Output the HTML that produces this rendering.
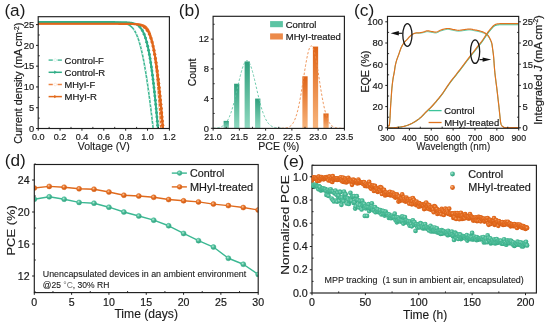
<!DOCTYPE html>
<html><head><meta charset="utf-8"><style>
html,body{margin:0;padding:0;background:#fff;}
svg{display:block;font-family:"Liberation Sans", sans-serif;will-change:transform;}
text{stroke:#1a1a1a;stroke-width:0.2px;}
</style></head><body>
<svg width="550" height="325" viewBox="0 0 550 325">
<rect width="550" height="325" fill="#fff"/>
<g>
<clipPath id="ca"><rect x="38.2" y="16.7" width="131.2" height="111.8"/></clipPath>
<g clip-path="url(#ca)">
<polyline points="36.01,22.11 70.99,22.11 71.53,22.11 72.07,22.11 72.60,22.11 73.14,22.11 73.68,22.11 74.22,22.11 74.75,22.11 75.29,22.11 75.83,22.11 76.37,22.11 76.90,22.11 77.44,22.11 77.98,22.11 78.52,22.11 79.05,22.11 79.59,22.11 80.13,22.11 80.67,22.11 81.20,22.11 81.74,22.11 82.28,22.11 82.82,22.11 83.35,22.11 83.89,22.11 84.43,22.11 84.97,22.11 85.50,22.11 86.04,22.11 86.58,22.11 87.12,22.11 87.65,22.11 88.19,22.11 88.73,22.11 89.27,22.11 89.80,22.11 90.34,22.11 90.88,22.11 91.42,22.11 91.95,22.11 92.49,22.11 93.03,22.11 93.57,22.11 94.10,22.11 94.64,22.11 95.18,22.11 95.72,22.11 96.25,22.11 96.79,22.11 97.33,22.11 97.87,22.11 98.40,22.11 98.94,22.11 99.48,22.11 100.02,22.11 100.55,22.11 101.09,22.11 101.63,22.11 102.17,22.12 102.70,22.12 103.24,22.12 103.78,22.12 104.32,22.12 104.85,22.12 105.39,22.13 105.93,22.13 106.47,22.13 107.00,22.13 107.54,22.14 108.08,22.14 108.62,22.14 109.16,22.15 109.69,22.15 110.23,22.16 110.77,22.17 111.31,22.17 111.85,22.18 112.38,22.19 112.92,22.20 113.46,22.21 114.00,22.23 114.54,22.24 115.08,22.26 115.61,22.28 116.15,22.30 116.69,22.32 117.23,22.34 117.77,22.37 118.31,22.41 118.85,22.44 119.39,22.48 119.93,22.53 120.47,22.58 121.01,22.64 121.56,22.70 122.10,22.78 122.64,22.86 123.19,22.95 123.73,23.05 124.16,23.15 124.28,23.17 124.82,23.30 125.37,23.45 125.92,23.61 126.47,23.79 127.02,24.00 127.47,24.18 127.58,24.23 128.13,24.49 128.69,24.78 129.25,25.10 129.44,25.22 129.81,25.47 130.38,25.88 130.86,26.26 130.95,26.34 131.52,26.86 131.97,27.30 132.10,27.44 132.68,28.09 132.89,28.34 133.27,28.82 133.69,29.38 133.87,29.64 134.38,30.42 134.47,30.56 135.01,31.46 135.08,31.59 135.57,32.50 135.70,32.75 136.09,33.54 136.33,34.04 136.57,34.57 136.97,35.50 137.01,35.61 137.43,36.65 137.62,37.13 137.83,37.69 138.20,38.73 138.29,38.97 138.56,39.77 138.90,40.81 138.97,41.03 139.22,41.85 139.54,42.89 139.67,43.33 139.84,43.93 140.13,44.96 140.39,45.92 140.41,46.00 140.68,47.04 140.94,48.08 141.13,48.83 141.20,49.12 141.45,50.16 141.69,51.20 141.90,52.09 141.93,52.24 142.16,53.28 142.39,54.32 142.61,55.35 142.69,55.75 142.82,56.39 143.04,57.43 143.24,58.47 143.45,59.51 143.52,59.86 143.65,60.55 143.85,61.59 144.04,62.63 144.23,63.67 144.38,64.46 144.42,64.71 144.61,65.74 144.79,66.78 144.97,67.82 145.15,68.86 145.28,69.63 145.32,69.90 145.50,70.94 145.67,71.98 145.84,73.02 146.00,74.06 146.17,75.10 146.22,75.43 146.33,76.13 146.50,77.17 146.66,78.21 146.81,79.25 146.97,80.29 147.13,81.33 147.22,81.94 147.28,82.37 147.43,83.41 147.59,84.45 147.74,85.49 147.88,86.52 148.03,87.56 148.18,88.60 148.27,89.24 148.32,89.64 148.47,90.68 148.61,91.72 148.75,92.76 148.89,93.80 149.03,94.84 149.17,95.88 149.31,96.91 149.38,97.43 149.45,97.95 149.59,98.99 149.72,100.03 149.86,101.07 149.99,102.11 150.12,103.15 150.26,104.19 150.39,105.23 150.52,106.27 150.56,106.62 150.65,107.30 150.78,108.34 150.91,109.38 151.04,110.42 151.16,111.46 151.29,112.50 151.42,113.54 151.54,114.58 151.67,115.62 151.79,116.66 151.82,116.93 151.92,117.69 152.04,118.73 152.16,119.77 152.28,120.81 152.41,121.85 152.53,122.89 152.65,123.93 152.77,124.97 152.89,126.01 153.01,127.05 153.13,128.08 153.17,128.50 153.25,129.12 153.36,130.16 153.48,131.20 153.60,132.24 153.72,133.28 153.83,134.32 153.95,135.36" fill="none" stroke="#3fb893" stroke-width="1.6" stroke-linejoin="round"/>
<circle cx="134.20" cy="30.14" r="0.8" fill="#fff" fill-opacity="0.9"/>
<circle cx="136.22" cy="33.81" r="0.8" fill="#fff" fill-opacity="0.9"/>
<circle cx="137.83" cy="37.69" r="0.8" fill="#fff" fill-opacity="0.9"/>
<circle cx="139.17" cy="41.67" r="0.8" fill="#fff" fill-opacity="0.9"/>
<circle cx="140.33" cy="45.71" r="0.8" fill="#fff" fill-opacity="0.9"/>
<circle cx="141.36" cy="49.78" r="0.8" fill="#fff" fill-opacity="0.9"/>
<circle cx="142.29" cy="53.87" r="0.8" fill="#fff" fill-opacity="0.9"/>
<circle cx="143.15" cy="57.99" r="0.8" fill="#fff" fill-opacity="0.9"/>
<circle cx="143.94" cy="62.11" r="0.8" fill="#fff" fill-opacity="0.9"/>
<circle cx="144.69" cy="66.24" r="0.8" fill="#fff" fill-opacity="0.9"/>
<circle cx="145.40" cy="70.38" r="0.8" fill="#fff" fill-opacity="0.9"/>
<circle cx="146.08" cy="74.53" r="0.8" fill="#fff" fill-opacity="0.9"/>
<circle cx="146.73" cy="78.68" r="0.8" fill="#fff" fill-opacity="0.9"/>
<circle cx="147.35" cy="82.83" r="0.8" fill="#fff" fill-opacity="0.9"/>
<circle cx="147.95" cy="86.99" r="0.8" fill="#fff" fill-opacity="0.9"/>
<circle cx="148.53" cy="91.15" r="0.8" fill="#fff" fill-opacity="0.9"/>
<circle cx="149.10" cy="95.31" r="0.8" fill="#fff" fill-opacity="0.9"/>
<circle cx="149.65" cy="99.47" r="0.8" fill="#fff" fill-opacity="0.9"/>
<circle cx="150.19" cy="103.64" r="0.8" fill="#fff" fill-opacity="0.9"/>
<circle cx="150.71" cy="107.80" r="0.8" fill="#fff" fill-opacity="0.9"/>
<circle cx="151.23" cy="111.97" r="0.8" fill="#fff" fill-opacity="0.9"/>
<circle cx="151.73" cy="116.14" r="0.8" fill="#fff" fill-opacity="0.9"/>
<circle cx="152.23" cy="120.31" r="0.8" fill="#fff" fill-opacity="0.9"/>
<circle cx="152.71" cy="124.49" r="0.8" fill="#fff" fill-opacity="0.9"/>
<circle cx="153.19" cy="128.66" r="0.8" fill="#fff" fill-opacity="0.9"/>
<circle cx="153.67" cy="132.83" r="0.8" fill="#fff" fill-opacity="0.9"/>
<polyline points="36.01,22.11 82.95,22.11 83.45,22.11 83.96,22.11 84.46,22.11 84.97,22.11 85.47,22.11 85.98,22.11 86.48,22.11 86.99,22.11 87.49,22.11 88.00,22.11 88.50,22.11 89.01,22.11 89.51,22.11 90.02,22.11 90.52,22.11 91.03,22.11 91.53,22.11 92.04,22.11 92.54,22.11 93.04,22.11 93.55,22.11 94.05,22.11 94.56,22.11 95.06,22.11 95.57,22.11 96.07,22.11 96.58,22.11 97.08,22.11 97.59,22.11 98.09,22.11 98.60,22.11 99.10,22.11 99.61,22.11 100.11,22.11 100.62,22.11 101.12,22.11 101.63,22.11 102.13,22.11 102.63,22.11 103.14,22.11 103.64,22.11 104.15,22.11 104.65,22.11 105.16,22.11 105.66,22.11 106.17,22.11 106.67,22.11 107.18,22.11 107.68,22.11 108.19,22.11 108.69,22.11 109.20,22.11 109.70,22.11 110.21,22.11 110.71,22.11 111.22,22.11 111.72,22.11 112.23,22.12 112.73,22.12 113.24,22.12 113.74,22.12 114.25,22.12 114.75,22.12 115.25,22.13 115.76,22.13 116.26,22.13 116.77,22.13 117.27,22.14 117.78,22.14 118.28,22.14 118.79,22.15 119.29,22.15 119.80,22.16 120.30,22.17 120.81,22.17 121.31,22.18 121.82,22.19 122.32,22.20 122.83,22.21 123.34,22.23 123.84,22.24 124.35,22.26 124.85,22.28 125.36,22.30 125.86,22.32 126.37,22.34 126.88,22.37 127.38,22.41 127.89,22.44 128.39,22.48 128.90,22.53 129.41,22.58 129.92,22.64 130.42,22.70 130.93,22.78 131.44,22.86 131.95,22.95 132.46,23.05 132.86,23.15 132.97,23.17 133.48,23.30 133.99,23.45 134.50,23.61 135.02,23.79 135.53,24.00 135.95,24.18 136.05,24.23 136.56,24.49 137.08,24.78 137.60,25.10 137.77,25.22 138.12,25.47 138.64,25.88 139.08,26.26 139.17,26.34 139.70,26.86 140.11,27.30 140.23,27.44 140.76,28.09 140.96,28.34 141.30,28.82 141.68,29.38 141.84,29.64 142.31,30.42 142.39,30.56 142.88,31.46 142.94,31.59 143.38,32.50 143.50,32.75 143.85,33.54 144.06,34.04 144.28,34.57 144.63,35.50 144.68,35.61 145.05,36.65 145.21,37.13 145.40,37.69 145.73,38.73 145.80,38.97 146.04,39.77 146.34,40.81 146.40,41.03 146.62,41.85 146.90,42.89 147.01,43.33 147.16,43.93 147.41,44.96 147.63,45.92 147.65,46.00 147.88,47.04 148.11,48.08 148.27,48.83 148.33,49.12 148.54,50.16 148.75,51.20 148.92,52.09 148.95,52.24 149.15,53.28 149.34,54.32 149.52,55.35 149.59,55.75 149.71,56.39 149.88,57.43 150.06,58.47 150.23,59.51 150.29,59.86 150.40,60.55 150.56,61.59 150.72,62.63 150.88,63.67 151.00,64.46 151.04,64.71 151.19,65.74 151.34,66.78 151.49,67.82 151.63,68.86 151.74,69.63 151.78,69.90 151.92,70.94 152.06,71.98 152.20,73.02 152.33,74.06 152.47,75.10 152.51,75.43 152.60,76.13 152.73,77.17 152.86,78.21 152.99,79.25 153.11,80.29 153.24,81.33 153.31,81.94 153.36,82.37 153.48,83.41 153.60,84.45 153.72,85.49 153.84,86.52 153.96,87.56 154.08,88.60 154.15,89.24 154.19,89.64 154.31,90.68 154.42,91.72 154.53,92.76 154.64,93.80 154.75,94.84 154.86,95.88 154.97,96.91 155.02,97.43 155.08,97.95 155.19,98.99 155.29,100.03 155.40,101.07 155.50,102.11 155.61,103.15 155.71,104.19 155.81,105.23 155.91,106.27 155.95,106.62 156.01,107.30 156.11,108.34 156.21,109.38 156.31,110.42 156.41,111.46 156.51,112.50 156.61,113.54 156.70,114.58 156.80,115.62 156.90,116.66 156.92,116.93 156.99,117.69 157.09,118.73 157.18,119.77 157.27,120.81 157.37,121.85 157.46,122.89 157.55,123.93 157.64,124.97 157.74,126.01 157.83,127.05 157.92,128.08 157.95,128.50 158.01,129.12 158.10,130.16 158.19,131.20 158.27,132.24 158.36,133.28 158.45,134.32 158.54,135.36" fill="none" stroke="#2fae87" stroke-width="2.0" stroke-linejoin="round"/>
<circle cx="139.83" cy="27.00" r="1.45" fill="#2fae87"/>
<circle cx="142.30" cy="30.39" r="1.45" fill="#2fae87"/>
<circle cx="144.12" cy="34.17" r="1.45" fill="#2fae87"/>
<circle cx="145.54" cy="38.12" r="1.45" fill="#2fae87"/>
<circle cx="146.71" cy="42.16" r="1.45" fill="#2fae87"/>
<circle cx="147.70" cy="46.24" r="1.45" fill="#2fae87"/>
<circle cx="148.58" cy="50.35" r="1.45" fill="#2fae87"/>
<circle cx="149.37" cy="54.47" r="1.45" fill="#2fae87"/>
<circle cx="150.08" cy="58.61" r="1.45" fill="#2fae87"/>
<circle cx="150.74" cy="62.76" r="1.45" fill="#2fae87"/>
<circle cx="151.36" cy="66.91" r="1.45" fill="#2fae87"/>
<circle cx="151.94" cy="71.07" r="1.45" fill="#2fae87"/>
<circle cx="152.48" cy="75.24" r="1.45" fill="#2fae87"/>
<circle cx="153.00" cy="79.40" r="1.45" fill="#2fae87"/>
<circle cx="153.50" cy="83.57" r="1.45" fill="#2fae87"/>
<circle cx="153.98" cy="87.75" r="1.45" fill="#2fae87"/>
<circle cx="154.44" cy="91.92" r="1.45" fill="#2fae87"/>
<circle cx="154.89" cy="96.10" r="1.45" fill="#2fae87"/>
<circle cx="155.32" cy="100.28" r="1.45" fill="#2fae87"/>
<circle cx="155.74" cy="104.45" r="1.45" fill="#2fae87"/>
<circle cx="156.14" cy="108.63" r="1.45" fill="#2fae87"/>
<circle cx="156.54" cy="112.82" r="1.45" fill="#2fae87"/>
<circle cx="156.93" cy="117.00" r="1.45" fill="#2fae87"/>
<circle cx="157.31" cy="121.18" r="1.45" fill="#2fae87"/>
<circle cx="157.68" cy="125.36" r="1.45" fill="#2fae87"/>
<circle cx="158.04" cy="129.55" r="1.45" fill="#2fae87"/>
<circle cx="158.40" cy="133.73" r="1.45" fill="#2fae87"/>
<polyline points="36.01,23.77 105.08,23.77 105.45,23.77 105.83,23.77 106.21,23.77 106.59,23.77 106.96,23.77 107.34,23.77 107.72,23.77 108.10,23.77 108.47,23.77 108.85,23.77 109.23,23.77 109.61,23.77 109.99,23.77 110.36,23.77 110.74,23.77 111.12,23.77 111.50,23.77 111.87,23.77 112.25,23.77 112.63,23.77 113.01,23.77 113.38,23.77 113.76,23.77 114.14,23.77 114.52,23.77 114.89,23.77 115.27,23.77 115.65,23.77 116.03,23.77 116.40,23.77 116.78,23.77 117.16,23.77 117.54,23.77 117.92,23.77 118.29,23.77 118.67,23.77 119.05,23.77 119.43,23.77 119.80,23.77 120.18,23.77 120.56,23.77 120.94,23.77 121.31,23.77 121.69,23.77 122.07,23.77 122.45,23.77 122.82,23.77 123.20,23.77 123.58,23.77 123.96,23.77 124.33,23.77 124.71,23.77 125.09,23.77 125.47,23.77 125.85,23.78 126.22,23.78 126.60,23.78 126.98,23.78 127.36,23.78 127.73,23.78 128.11,23.78 128.49,23.78 128.87,23.79 129.24,23.79 129.62,23.79 130.00,23.79 130.38,23.80 130.76,23.80 131.13,23.80 131.51,23.81 131.89,23.81 132.27,23.82 132.64,23.82 133.02,23.83 133.40,23.83 133.78,23.84 134.16,23.85 134.53,23.86 134.91,23.87 135.29,23.89 135.67,23.90 136.05,23.92 136.42,23.93 136.80,23.96 137.18,23.98 137.56,24.00 137.94,24.03 138.32,24.06 138.70,24.10 139.07,24.14 139.45,24.19 139.83,24.24 140.21,24.29 140.59,24.36 140.97,24.43 141.35,24.51 141.73,24.60 142.11,24.70 142.47,24.81 142.49,24.82 142.88,24.94 143.26,25.09 143.64,25.25 144.02,25.43 144.41,25.63 144.77,25.85 144.79,25.86 145.18,26.11 145.56,26.40 145.95,26.72 146.14,26.89 146.34,27.08 146.73,27.48 147.11,27.92 147.12,27.94 147.52,28.45 147.88,28.96 147.91,29.02 148.31,29.66 148.51,30.00 148.71,30.38 149.05,31.04 149.11,31.18 149.52,32.08 149.52,32.09 149.93,33.10 149.94,33.12 150.32,34.16 150.34,34.24 150.66,35.20 150.76,35.52 150.98,36.24 151.18,36.95 151.27,37.28 151.55,38.31 151.61,38.56 151.81,39.35 152.05,40.37 152.05,40.39 152.29,41.43 152.49,42.39 152.51,42.47 152.72,43.51 152.92,44.55 152.94,44.67 153.11,45.59 153.29,46.63 153.40,47.22 153.47,47.67 153.65,48.70 153.81,49.74 153.86,50.08 153.97,50.78 154.13,51.82 154.28,52.86 154.34,53.29 154.43,53.90 154.57,54.94 154.71,55.98 154.84,56.89 154.85,57.02 154.99,58.06 155.12,59.09 155.24,60.13 155.34,60.93 155.37,61.17 155.49,62.21 155.61,63.25 155.73,64.29 155.85,65.33 155.86,65.46 155.96,66.37 156.07,67.41 156.18,68.45 156.29,69.48 156.40,70.52 156.40,70.55 156.50,71.56 156.60,72.60 156.71,73.64 156.81,74.68 156.91,75.72 156.96,76.26 157.00,76.76 157.10,77.80 157.20,78.84 157.29,79.87 157.38,80.91 157.47,81.95 157.54,82.66 157.57,82.99 157.66,84.03 157.74,85.07 157.83,86.11 157.92,87.15 158.01,88.19 158.09,89.23 158.14,89.85 158.18,90.26 158.26,91.30 158.34,92.34 158.42,93.38 158.51,94.42 158.59,95.46 158.67,96.50 158.75,97.54 158.77,97.91 158.82,98.58 158.90,99.62 158.98,100.65 159.06,101.69 159.13,102.73 159.21,103.77 159.28,104.81 159.36,105.85 159.43,106.89 159.44,106.96 159.51,107.93 159.58,108.97 159.65,110.01 159.72,111.04 159.79,112.08 159.87,113.12 159.94,114.16 160.01,115.20 160.08,116.24 160.13,117.11 160.15,117.28 160.22,118.32 160.28,119.36 160.35,120.40 160.42,121.43 160.49,122.47 160.55,123.51 160.62,124.55 160.69,125.59 160.75,126.63 160.82,127.67 160.87,128.50 160.89,128.71 160.95,129.75 161.01,130.79 161.08,131.82 161.14,132.86 161.21,133.90 161.27,134.94" fill="none" stroke="#e9782f" stroke-width="1.6" stroke-linejoin="round"/>
<circle cx="151.08" cy="36.58" r="0.8" fill="#fff" fill-opacity="0.9"/>
<circle cx="152.11" cy="40.65" r="0.8" fill="#fff" fill-opacity="0.9"/>
<circle cx="152.96" cy="44.77" r="0.8" fill="#fff" fill-opacity="0.9"/>
<circle cx="153.68" cy="48.91" r="0.8" fill="#fff" fill-opacity="0.9"/>
<circle cx="154.31" cy="53.06" r="0.8" fill="#fff" fill-opacity="0.9"/>
<circle cx="154.88" cy="57.22" r="0.8" fill="#fff" fill-opacity="0.9"/>
<circle cx="155.39" cy="61.39" r="0.8" fill="#fff" fill-opacity="0.9"/>
<circle cx="155.87" cy="65.56" r="0.8" fill="#fff" fill-opacity="0.9"/>
<circle cx="156.32" cy="69.74" r="0.8" fill="#fff" fill-opacity="0.9"/>
<circle cx="156.73" cy="73.92" r="0.8" fill="#fff" fill-opacity="0.9"/>
<circle cx="157.13" cy="78.10" r="0.8" fill="#fff" fill-opacity="0.9"/>
<circle cx="157.50" cy="82.28" r="0.8" fill="#fff" fill-opacity="0.9"/>
<circle cx="157.86" cy="86.46" r="0.8" fill="#fff" fill-opacity="0.9"/>
<circle cx="158.21" cy="90.65" r="0.8" fill="#fff" fill-opacity="0.9"/>
<circle cx="158.54" cy="94.84" r="0.8" fill="#fff" fill-opacity="0.9"/>
<circle cx="158.86" cy="99.03" r="0.8" fill="#fff" fill-opacity="0.9"/>
<circle cx="159.17" cy="103.21" r="0.8" fill="#fff" fill-opacity="0.9"/>
<circle cx="159.47" cy="107.40" r="0.8" fill="#fff" fill-opacity="0.9"/>
<circle cx="159.76" cy="111.59" r="0.8" fill="#fff" fill-opacity="0.9"/>
<circle cx="160.05" cy="115.78" r="0.8" fill="#fff" fill-opacity="0.9"/>
<circle cx="160.32" cy="119.97" r="0.8" fill="#fff" fill-opacity="0.9"/>
<circle cx="160.60" cy="124.17" r="0.8" fill="#fff" fill-opacity="0.9"/>
<circle cx="160.86" cy="128.36" r="0.8" fill="#fff" fill-opacity="0.9"/>
<circle cx="161.12" cy="132.55" r="0.8" fill="#fff" fill-opacity="0.9"/>
<polyline points="36.01,23.77 92.53,23.77 93.01,23.77 93.48,23.77 93.96,23.77 94.43,23.77 94.91,23.77 95.38,23.77 95.86,23.77 96.33,23.77 96.81,23.77 97.28,23.77 97.75,23.77 98.23,23.77 98.70,23.77 99.18,23.77 99.65,23.77 100.13,23.77 100.60,23.77 101.08,23.77 101.55,23.77 102.03,23.77 102.50,23.77 102.97,23.77 103.45,23.77 103.92,23.77 104.40,23.77 104.87,23.77 105.35,23.77 105.82,23.77 106.30,23.77 106.77,23.77 107.25,23.77 107.72,23.77 108.19,23.77 108.67,23.77 109.14,23.77 109.62,23.77 110.09,23.77 110.57,23.77 111.04,23.77 111.52,23.77 111.99,23.77 112.47,23.77 112.94,23.77 113.41,23.77 113.89,23.77 114.36,23.77 114.84,23.77 115.31,23.77 115.79,23.77 116.26,23.77 116.74,23.77 117.21,23.77 117.69,23.77 118.16,23.77 118.64,23.78 119.11,23.78 119.58,23.78 120.06,23.78 120.53,23.78 121.01,23.78 121.48,23.78 121.96,23.78 122.43,23.79 122.91,23.79 123.38,23.79 123.86,23.79 124.33,23.80 124.81,23.80 125.28,23.80 125.75,23.81 126.23,23.81 126.70,23.82 127.18,23.82 127.65,23.83 128.13,23.83 128.60,23.84 129.08,23.85 129.55,23.86 130.03,23.87 130.50,23.89 130.98,23.90 131.45,23.92 131.93,23.93 132.40,23.96 132.88,23.98 133.36,24.00 133.83,24.03 134.31,24.06 134.78,24.10 135.26,24.14 135.74,24.19 136.21,24.24 136.69,24.29 137.17,24.36 137.64,24.43 138.12,24.51 138.60,24.60 139.08,24.70 139.53,24.81 139.56,24.82 140.04,24.94 140.52,25.09 141.00,25.25 141.48,25.43 141.97,25.63 142.43,25.85 142.45,25.86 142.94,26.11 143.42,26.40 143.91,26.72 144.14,26.89 144.40,27.08 144.89,27.48 145.37,27.92 145.39,27.94 145.88,28.45 146.34,28.96 146.38,29.02 146.88,29.66 147.13,30.00 147.39,30.38 147.81,31.04 147.90,31.18 148.41,32.08 148.41,32.09 148.93,33.10 148.94,33.12 149.42,34.16 149.45,34.24 149.85,35.20 149.98,35.52 150.26,36.24 150.52,36.95 150.63,37.28 150.98,38.31 151.06,38.56 151.31,39.35 151.61,40.37 151.62,40.39 151.91,41.43 152.17,42.39 152.19,42.47 152.46,43.51 152.72,44.55 152.74,44.67 152.96,45.59 153.20,46.63 153.33,47.22 153.42,47.67 153.64,48.70 153.86,49.74 153.92,50.08 154.06,50.78 154.26,51.82 154.46,52.86 154.53,53.29 154.65,53.90 154.83,54.94 155.01,55.98 155.16,56.89 155.18,57.02 155.36,58.06 155.52,59.09 155.69,60.13 155.81,60.93 155.85,61.17 156.00,62.21 156.16,63.25 156.31,64.29 156.46,65.33 156.48,65.46 156.60,66.37 156.75,67.41 156.89,68.45 157.03,69.48 157.17,70.52 157.17,70.55 157.30,71.56 157.43,72.60 157.56,73.64 157.69,74.68 157.82,75.72 157.89,76.26 157.95,76.76 158.07,77.80 158.19,78.84 158.32,79.87 158.44,80.91 158.55,81.95 158.63,82.66 158.67,82.99 158.79,84.03 158.90,85.07 159.02,86.11 159.13,87.15 159.24,88.19 159.35,89.23 159.41,89.85 159.46,90.26 159.57,91.30 159.67,92.34 159.78,93.38 159.89,94.42 159.99,95.46 160.09,96.50 160.20,97.54 160.23,97.91 160.30,98.58 160.40,99.62 160.50,100.65 160.60,101.69 160.70,102.73 160.80,103.77 160.89,104.81 160.99,105.85 161.09,106.89 161.09,106.96 161.18,107.93 161.28,108.97 161.37,110.01 161.46,111.04 161.56,112.08 161.65,113.12 161.74,114.16 161.83,115.20 161.92,116.24 162.00,117.11 162.01,117.28 162.10,118.32 162.19,119.36 162.28,120.40 162.37,121.43 162.46,122.47 162.55,123.51 162.63,124.55 162.72,125.59 162.81,126.63 162.89,127.67 162.96,128.50 162.98,128.71 163.06,129.75 163.15,130.79 163.23,131.82 163.31,132.86 163.40,133.90 163.48,134.94" fill="none" stroke="#e0661a" stroke-width="2.2" stroke-linejoin="round"/>
<circle cx="144.56" cy="27.21" r="1.6" fill="#e0661a"/>
<circle cx="147.35" cy="30.32" r="1.6" fill="#e0661a"/>
<circle cx="149.35" cy="34.01" r="1.6" fill="#e0661a"/>
<circle cx="150.85" cy="37.93" r="1.6" fill="#e0661a"/>
<circle cx="152.05" cy="41.96" r="1.6" fill="#e0661a"/>
<circle cx="153.06" cy="46.03" r="1.6" fill="#e0661a"/>
<circle cx="153.94" cy="50.14" r="1.6" fill="#e0661a"/>
<circle cx="154.71" cy="54.27" r="1.6" fill="#e0661a"/>
<circle cx="155.41" cy="58.41" r="1.6" fill="#e0661a"/>
<circle cx="156.06" cy="62.56" r="1.6" fill="#e0661a"/>
<circle cx="156.65" cy="66.72" r="1.6" fill="#e0661a"/>
<circle cx="157.21" cy="70.88" r="1.6" fill="#e0661a"/>
<circle cx="157.74" cy="75.05" r="1.6" fill="#e0661a"/>
<circle cx="158.24" cy="79.22" r="1.6" fill="#e0661a"/>
<circle cx="158.72" cy="83.39" r="1.6" fill="#e0661a"/>
<circle cx="159.17" cy="87.57" r="1.6" fill="#e0661a"/>
<circle cx="159.61" cy="91.74" r="1.6" fill="#e0661a"/>
<circle cx="160.04" cy="95.92" r="1.6" fill="#e0661a"/>
<circle cx="160.45" cy="100.10" r="1.6" fill="#e0661a"/>
<circle cx="160.84" cy="104.28" r="1.6" fill="#e0661a"/>
<circle cx="161.23" cy="108.46" r="1.6" fill="#e0661a"/>
<circle cx="161.61" cy="112.65" r="1.6" fill="#e0661a"/>
<circle cx="161.98" cy="116.83" r="1.6" fill="#e0661a"/>
<circle cx="162.34" cy="121.02" r="1.6" fill="#e0661a"/>
<circle cx="162.69" cy="125.20" r="1.6" fill="#e0661a"/>
<circle cx="163.03" cy="129.39" r="1.6" fill="#e0661a"/>
<circle cx="163.37" cy="133.57" r="1.6" fill="#e0661a"/>
</g>
<rect x="38.2" y="16.7" width="131.2" height="111.8" fill="none" stroke="#1e1e1e" stroke-width="1.15"/>
<line x1="38.2" y1="128.5" x2="38.2" y2="130.7" stroke="#1e1e1e" stroke-width="1"/>
<line x1="49.13333333333333" y1="128.5" x2="49.13333333333333" y2="126.9" stroke="#1e1e1e" stroke-width="0.9"/>
<text x="38.2" y="140.3" font-size="9.3" text-anchor="middle" textLength="12.6" lengthAdjust="spacingAndGlyphs" fill="#1a1a1a">0.0</text>
<line x1="60.06666666666666" y1="128.5" x2="60.06666666666666" y2="130.7" stroke="#1e1e1e" stroke-width="1"/>
<line x1="71.0" y1="128.5" x2="71.0" y2="126.9" stroke="#1e1e1e" stroke-width="0.9"/>
<text x="60.06666666666666" y="140.3" font-size="9.3" text-anchor="middle" textLength="12.6" lengthAdjust="spacingAndGlyphs" fill="#1a1a1a">0.2</text>
<line x1="81.93333333333334" y1="128.5" x2="81.93333333333334" y2="130.7" stroke="#1e1e1e" stroke-width="1"/>
<line x1="92.86666666666667" y1="128.5" x2="92.86666666666667" y2="126.9" stroke="#1e1e1e" stroke-width="0.9"/>
<text x="81.93333333333334" y="140.3" font-size="9.3" text-anchor="middle" textLength="12.6" lengthAdjust="spacingAndGlyphs" fill="#1a1a1a">0.4</text>
<line x1="103.8" y1="128.5" x2="103.8" y2="130.7" stroke="#1e1e1e" stroke-width="1"/>
<line x1="114.73333333333333" y1="128.5" x2="114.73333333333333" y2="126.9" stroke="#1e1e1e" stroke-width="0.9"/>
<text x="103.8" y="140.3" font-size="9.3" text-anchor="middle" textLength="12.6" lengthAdjust="spacingAndGlyphs" fill="#1a1a1a">0.6</text>
<line x1="125.66666666666666" y1="128.5" x2="125.66666666666666" y2="130.7" stroke="#1e1e1e" stroke-width="1"/>
<line x1="136.6" y1="128.5" x2="136.6" y2="126.9" stroke="#1e1e1e" stroke-width="0.9"/>
<text x="125.66666666666666" y="140.3" font-size="9.3" text-anchor="middle" textLength="12.6" lengthAdjust="spacingAndGlyphs" fill="#1a1a1a">0.8</text>
<line x1="147.53333333333333" y1="128.5" x2="147.53333333333333" y2="130.7" stroke="#1e1e1e" stroke-width="1"/>
<line x1="158.46666666666667" y1="128.5" x2="158.46666666666667" y2="126.9" stroke="#1e1e1e" stroke-width="0.9"/>
<text x="147.53333333333333" y="140.3" font-size="9.3" text-anchor="middle" textLength="12.6" lengthAdjust="spacingAndGlyphs" fill="#1a1a1a">1.0</text>
<line x1="169.39999999999998" y1="128.5" x2="169.39999999999998" y2="130.7" stroke="#1e1e1e" stroke-width="1"/>
<text x="169.39999999999998" y="140.3" font-size="9.3" text-anchor="middle" textLength="12.6" lengthAdjust="spacingAndGlyphs" fill="#1a1a1a">1.2</text>
<line x1="38.2" y1="128.5" x2="36.0" y2="128.5" stroke="#1e1e1e" stroke-width="1"/>
<line x1="38.2" y1="118.11" x2="39.800000000000004" y2="118.11" stroke="#1e1e1e" stroke-width="0.9"/>
<text x="34.2" y="131.8" font-size="9.3" text-anchor="end" fill="#1a1a1a">0</text>
<line x1="38.2" y1="107.72" x2="36.0" y2="107.72" stroke="#1e1e1e" stroke-width="1"/>
<line x1="38.2" y1="97.33" x2="39.800000000000004" y2="97.33" stroke="#1e1e1e" stroke-width="0.9"/>
<text x="34.2" y="111.02" font-size="9.3" text-anchor="end" fill="#1a1a1a">5</text>
<line x1="38.2" y1="86.94" x2="36.0" y2="86.94" stroke="#1e1e1e" stroke-width="1"/>
<line x1="38.2" y1="76.55" x2="39.800000000000004" y2="76.55" stroke="#1e1e1e" stroke-width="0.9"/>
<text x="34.2" y="90.24" font-size="9.3" text-anchor="end" fill="#1a1a1a">10</text>
<line x1="38.2" y1="66.16" x2="36.0" y2="66.16" stroke="#1e1e1e" stroke-width="1"/>
<line x1="38.2" y1="55.769999999999996" x2="39.800000000000004" y2="55.769999999999996" stroke="#1e1e1e" stroke-width="0.9"/>
<text x="34.2" y="69.46" font-size="9.3" text-anchor="end" fill="#1a1a1a">15</text>
<line x1="38.2" y1="45.38000000000001" x2="36.0" y2="45.38000000000001" stroke="#1e1e1e" stroke-width="1"/>
<line x1="38.2" y1="34.99000000000001" x2="39.800000000000004" y2="34.99000000000001" stroke="#1e1e1e" stroke-width="0.9"/>
<text x="34.2" y="48.68000000000001" font-size="9.3" text-anchor="end" fill="#1a1a1a">20</text>
<line x1="38.2" y1="24.60000000000001" x2="36.0" y2="24.60000000000001" stroke="#1e1e1e" stroke-width="1"/>
<text x="34.2" y="27.90000000000001" font-size="9.3" text-anchor="end" fill="#1a1a1a">25</text>
<text x="103.8" y="150.1" font-size="10.2" text-anchor="middle" textLength="52.2" lengthAdjust="spacingAndGlyphs" fill="#1a1a1a" style="stroke-width:0.1px">Voltage (V)</text>
<text font-size="10.7" fill="#1a1a1a" transform="translate(22.0,83.3) rotate(-90)" text-anchor="middle">Current density (mA cm<tspan dy="-3.5" font-size="6.5">-2</tspan><tspan dy="3.5">)</tspan></text>
<text x="4.4" y="16.0" font-size="17.2" fill="#1a1a1a" style="stroke-width:0">(a)</text>
<polyline points="48.60,60.10 52.80,60.10" fill="none" stroke="#4fbf9c" stroke-width="1.5" stroke-linejoin="round"/>
<polyline points="57.60,60.10 61.90,60.10" fill="none" stroke="#4fbf9c" stroke-width="1.5" stroke-linejoin="round"/>
<circle cx="55.2" cy="60.1" r="1.4" fill="#fff" stroke="#4fbf9c" stroke-width="0.35" stroke-opacity="0.5"/>
<text x="64.6" y="63.5" font-size="9.8" textLength="39.3" lengthAdjust="spacingAndGlyphs" fill="#1a1a1a">Control-F</text>
<polyline points="48.60,72.30 61.90,72.30" fill="none" stroke="#32ae88" stroke-width="1.5" stroke-linejoin="round"/>
<polygon points="54.2,70.6 54.2,74.0 57.2,72.3" fill="#32ae88"/>
<text x="64.6" y="75.8" font-size="9.8" textLength="40.6" lengthAdjust="spacingAndGlyphs" fill="#1a1a1a">Control-R</text>
<polyline points="48.60,84.50 52.80,84.50" fill="none" stroke="#ec8444" stroke-width="1.5" stroke-linejoin="round"/>
<polyline points="57.60,84.50 61.90,84.50" fill="none" stroke="#ec8444" stroke-width="1.5" stroke-linejoin="round"/>
<circle cx="55.2" cy="84.5" r="1.4" fill="#fff" stroke="#ec8444" stroke-width="0.35" stroke-opacity="0.5"/>
<text x="64.6" y="88.0" font-size="9.8" textLength="30.5" lengthAdjust="spacingAndGlyphs" fill="#1a1a1a">MHyI-F</text>
<polyline points="48.60,96.60 61.90,96.60" fill="none" stroke="#e26a1c" stroke-width="1.5" stroke-linejoin="round"/>
<polygon points="54.2,94.89999999999999 54.2,98.3 57.2,96.6" fill="#e26a1c"/>
<text x="64.6" y="100.1" font-size="9.8" textLength="32.3" lengthAdjust="spacingAndGlyphs" fill="#1a1a1a">MHyI-R</text>
</g>
<defs>
<linearGradient id="gg" x1="0" y1="0" x2="0" y2="1"><stop offset="0" stop-color="#2f9f7c"/><stop offset="1" stop-color="#8fd9c0"/></linearGradient>
<linearGradient id="go" x1="0" y1="0" x2="0" y2="1"><stop offset="0" stop-color="#df6417"/><stop offset="1" stop-color="#f7b47c"/></linearGradient>
<radialGradient id="rg" cx="0.38" cy="0.35" r="0.7"><stop offset="0" stop-color="#b8ecd9"/><stop offset="0.45" stop-color="#4cbb98"/><stop offset="1" stop-color="#2e9a78"/></radialGradient>
<radialGradient id="ro" cx="0.38" cy="0.35" r="0.7"><stop offset="0" stop-color="#f9c8a0"/><stop offset="0.45" stop-color="#e56f24"/><stop offset="1" stop-color="#c85410"/></radialGradient>
</defs>
<rect x="223.60" y="120.87" width="5.25" height="7.43" fill="url(#gg)"/>
<rect x="234.11" y="83.72" width="5.25" height="44.58" fill="url(#gg)"/>
<rect x="244.61" y="61.43" width="5.25" height="66.87" fill="url(#gg)"/>
<rect x="255.12" y="98.58" width="5.25" height="29.72" fill="url(#gg)"/>
<rect x="302.38" y="76.29" width="5.25" height="52.01" fill="url(#go)"/>
<rect x="312.89" y="46.57" width="5.25" height="81.73" fill="url(#go)"/>
<rect x="323.39" y="113.44" width="5.25" height="14.86" fill="url(#go)"/>
<polyline points="213.10,128.20 213.63,128.18 214.15,128.16 214.68,128.13 215.20,128.09 215.73,128.05 216.25,127.99 216.78,127.93 217.30,127.86 217.83,127.78 218.35,127.68 218.88,127.56 219.40,127.43 219.93,127.27 220.45,127.09 220.98,126.89 221.50,126.65 222.03,126.38 222.55,126.07 223.08,125.72 223.60,125.33 224.13,124.89 224.65,124.39 225.18,123.84 225.70,123.22 226.23,122.54 226.76,121.78 227.28,120.95 227.81,120.04 228.33,119.05 228.86,117.97 229.38,116.79 229.91,115.53 230.43,114.17 230.96,112.72 231.48,111.18 232.01,109.53 232.53,107.80 233.06,105.98 233.58,104.07 234.11,102.08 234.63,100.02 235.16,97.89 235.68,95.70 236.21,93.47 236.73,91.20 237.26,88.90 237.78,86.60 238.31,84.30 238.83,82.02 239.36,79.78 239.89,77.59 240.41,75.46 240.94,73.42 241.46,71.48 241.99,69.66 242.51,67.97 243.04,66.43 243.56,65.05 244.09,63.84 244.61,62.81 245.14,61.98 245.66,61.35 246.19,60.93 246.71,60.71 247.24,60.71 247.76,60.93 248.29,61.35 248.81,61.98 249.34,62.81 249.86,63.84 250.39,65.05 250.91,66.43 251.44,67.97 251.96,69.66 252.49,71.48 253.02,73.42 253.54,75.46 254.07,77.59 254.59,79.78 255.12,82.02 255.64,84.30 256.17,86.60 256.69,88.90 257.22,91.20 257.74,93.47 258.27,95.70 258.79,97.89 259.32,100.02 259.84,102.08 260.37,104.07 260.89,105.98 261.42,107.80 261.94,109.53 262.47,111.18 262.99,112.72 263.52,114.17 264.04,115.53 264.57,116.79 265.09,117.97 265.62,119.05 266.15,120.04 266.67,120.95 267.20,121.78 267.72,122.54 268.25,123.22 268.77,123.84 269.30,124.39 269.82,124.89 270.35,125.33 270.87,125.72 271.40,126.07 271.92,126.38 272.45,126.65 272.97,126.89 273.50,127.09 274.02,127.27 274.55,127.43 275.07,127.56 275.60,127.68 276.12,127.78 276.65,127.86 277.17,127.93 277.70,127.99 278.22,128.05 278.75,128.09 279.28,128.13 279.80,128.16 280.33,128.18 280.85,128.20 281.38,128.22 281.90,128.24 282.43,128.25 282.95,128.26 283.48,128.27" fill="none" stroke="#5cc4a3" stroke-width="0.9" stroke-dasharray="2.4,1.8" stroke-linejoin="round"/>
<polyline points="281.38,128.25 281.90,128.24 282.43,128.22 282.95,128.19 283.48,128.16 284.00,128.13 284.53,128.08 285.05,128.03 285.58,127.96 286.10,127.87 286.63,127.77 287.15,127.64 287.68,127.49 288.20,127.31 288.73,127.09 289.25,126.83 289.78,126.52 290.30,126.16 290.83,125.74 291.35,125.25 291.88,124.68 292.41,124.02 292.93,123.27 293.46,122.41 293.98,121.43 294.51,120.34 295.03,119.10 295.56,117.73 296.08,116.21 296.61,114.53 297.13,112.68 297.66,110.67 298.18,108.50 298.71,106.15 299.23,103.65 299.76,100.98 300.28,98.16 300.81,95.20 301.33,92.12 301.86,88.93 302.38,85.66 302.91,82.32 303.43,78.95 303.96,75.58 304.48,72.22 305.01,68.93 305.54,65.73 306.06,62.66 306.59,59.75 307.11,57.04 307.64,54.55 308.16,52.33 308.69,50.40 309.21,48.78 309.74,47.50 310.26,46.58 310.79,46.02 311.31,45.83 311.84,46.02 312.36,46.58 312.89,47.50 313.41,48.78 313.94,50.40 314.46,52.33 314.99,54.55 315.51,57.04 316.04,59.75 316.56,62.66 317.09,65.73 317.61,68.93 318.14,72.22 318.67,75.58 319.19,78.95 319.72,82.32 320.24,85.66 320.77,88.93 321.29,92.12 321.82,95.20 322.34,98.16 322.87,100.98 323.39,103.65 323.92,106.15 324.44,108.50 324.97,110.67 325.49,112.68 326.02,114.53 326.54,116.21 327.07,117.73 327.59,119.10 328.12,120.34 328.64,121.43 329.17,122.41 329.69,123.27 330.22,124.02 330.74,124.68 331.27,125.25 331.80,125.74 332.32,126.16 332.85,126.52 333.37,126.83 333.90,127.09 334.42,127.31 334.95,127.49 335.47,127.64 336.00,127.77 336.52,127.87 337.05,127.96 337.57,128.03 338.10,128.08 338.62,128.13 339.15,128.16 339.67,128.19 340.20,128.22 340.72,128.24 341.25,128.25 341.77,128.26 342.30,128.27 342.82,128.28 343.35,128.28 343.87,128.29" fill="none" stroke="#ec8a4a" stroke-width="0.9" stroke-dasharray="2.4,1.8" stroke-linejoin="round"/>
<rect x="213.1" y="16.3" width="131.29999999999998" height="112.10000000000001" fill="none" stroke="#1e1e1e" stroke-width="1.15"/>
<line x1="213.1" y1="128.4" x2="213.1" y2="130.6" stroke="#1e1e1e" stroke-width="1"/>
<line x1="226.23" y1="128.4" x2="226.23" y2="126.80000000000001" stroke="#1e1e1e" stroke-width="0.9"/>
<text x="213.1" y="140.3" font-size="9.3" text-anchor="middle" textLength="17.6" lengthAdjust="spacingAndGlyphs" fill="#1a1a1a">21.0</text>
<line x1="239.35999999999999" y1="128.4" x2="239.35999999999999" y2="130.6" stroke="#1e1e1e" stroke-width="1"/>
<line x1="252.48999999999998" y1="128.4" x2="252.48999999999998" y2="126.80000000000001" stroke="#1e1e1e" stroke-width="0.9"/>
<text x="239.35999999999999" y="140.3" font-size="9.3" text-anchor="middle" textLength="17.6" lengthAdjust="spacingAndGlyphs" fill="#1a1a1a">21.5</text>
<line x1="265.62" y1="128.4" x2="265.62" y2="130.6" stroke="#1e1e1e" stroke-width="1"/>
<line x1="278.75" y1="128.4" x2="278.75" y2="126.80000000000001" stroke="#1e1e1e" stroke-width="0.9"/>
<text x="265.62" y="140.3" font-size="9.3" text-anchor="middle" textLength="17.6" lengthAdjust="spacingAndGlyphs" fill="#1a1a1a">22.0</text>
<line x1="291.88" y1="128.4" x2="291.88" y2="130.6" stroke="#1e1e1e" stroke-width="1"/>
<line x1="305.01" y1="128.4" x2="305.01" y2="126.80000000000001" stroke="#1e1e1e" stroke-width="0.9"/>
<text x="291.88" y="140.3" font-size="9.3" text-anchor="middle" textLength="17.6" lengthAdjust="spacingAndGlyphs" fill="#1a1a1a">22.5</text>
<line x1="318.14" y1="128.4" x2="318.14" y2="130.6" stroke="#1e1e1e" stroke-width="1"/>
<line x1="331.27" y1="128.4" x2="331.27" y2="126.80000000000001" stroke="#1e1e1e" stroke-width="0.9"/>
<text x="318.14" y="140.3" font-size="9.3" text-anchor="middle" textLength="17.6" lengthAdjust="spacingAndGlyphs" fill="#1a1a1a">23.0</text>
<line x1="344.4" y1="128.4" x2="344.4" y2="130.6" stroke="#1e1e1e" stroke-width="1"/>
<text x="344.4" y="140.3" font-size="9.3" text-anchor="middle" textLength="17.6" lengthAdjust="spacingAndGlyphs" fill="#1a1a1a">23.5</text>
<line x1="213.1" y1="128.3" x2="210.9" y2="128.3" stroke="#1e1e1e" stroke-width="1"/>
<line x1="213.1" y1="113.44000000000001" x2="214.7" y2="113.44000000000001" stroke="#1e1e1e" stroke-width="0.9"/>
<text x="209.0" y="131.60000000000002" font-size="9.3" text-anchor="end" fill="#1a1a1a">0</text>
<line x1="213.1" y1="98.58000000000001" x2="210.9" y2="98.58000000000001" stroke="#1e1e1e" stroke-width="1"/>
<line x1="213.1" y1="83.72000000000001" x2="214.7" y2="83.72000000000001" stroke="#1e1e1e" stroke-width="0.9"/>
<text x="209.0" y="101.88000000000001" font-size="9.3" text-anchor="end" fill="#1a1a1a">4</text>
<line x1="213.1" y1="68.86000000000001" x2="210.9" y2="68.86000000000001" stroke="#1e1e1e" stroke-width="1"/>
<line x1="213.1" y1="54.000000000000014" x2="214.7" y2="54.000000000000014" stroke="#1e1e1e" stroke-width="0.9"/>
<text x="209.0" y="72.16000000000001" font-size="9.3" text-anchor="end" fill="#1a1a1a">8</text>
<line x1="213.1" y1="39.140000000000015" x2="210.9" y2="39.140000000000015" stroke="#1e1e1e" stroke-width="1"/>
<line x1="213.1" y1="24.280000000000015" x2="214.7" y2="24.280000000000015" stroke="#1e1e1e" stroke-width="0.9"/>
<text x="209.0" y="42.44000000000001" font-size="9.3" text-anchor="end" fill="#1a1a1a">12</text>
<text x="278.8" y="150.3" font-size="10.2" text-anchor="middle" textLength="41.2" lengthAdjust="spacingAndGlyphs" fill="#1a1a1a" style="stroke-width:0.1px">PCE (%)</text>
<text x="0" y="0" font-size="10.4" text-anchor="middle" fill="#1a1a1a" transform="translate(196,72.5) rotate(-90)">Count</text>
<text x="178.7" y="16.4" font-size="17.4" fill="#1a1a1a" style="stroke-width:0">(b)</text>
<rect x="270.1" y="21.1" width="12.8" height="6.1" fill="#5cc4a3"/>
<rect x="270.1" y="33.4" width="12.8" height="6.1" fill="#ec8a4a"/>
<text x="285.7" y="27.7" font-size="9.6" textLength="30.6" lengthAdjust="spacingAndGlyphs" fill="#1a1a1a">Control</text>
<text x="285.7" y="40.0" font-size="9.6" textLength="55.2" lengthAdjust="spacingAndGlyphs" fill="#1a1a1a">MHyI-treated</text>
<clipPath id="cc"><rect x="387.5" y="16.4" width="131.20000000000005" height="111.9"/></clipPath>
<g clip-path="url(#cc)">
<polyline points="387.50,126.32 387.60,126.27 387.73,126.21 387.88,126.14 388.05,126.06 388.22,125.97 388.37,125.89 388.52,125.87 388.67,125.93 388.83,125.98 388.97,125.95 389.12,125.77 389.25,125.36 389.37,124.75 389.48,123.99 389.59,123.08 389.70,122.01 389.80,120.76 389.91,119.32 390.02,117.59 390.12,115.54 390.23,113.32 390.34,111.06 390.45,108.88 390.56,106.92 390.67,105.18 390.78,103.57 390.89,102.04 391.00,100.56 391.11,99.09 391.22,97.59 391.32,96.07 391.42,94.57 391.52,93.09 391.62,91.60 391.74,90.10 391.87,88.58 392.03,87.02 392.20,85.41 392.38,83.80 392.57,82.21 392.77,80.68 392.97,79.25 393.18,77.92 393.40,76.67 393.64,75.48 393.87,74.34 394.08,73.23 394.28,72.15 394.45,71.09 394.60,70.07 394.73,69.09 394.86,68.14 395.00,67.22 395.15,66.32 395.32,65.45 395.49,64.62 395.67,63.82 395.86,63.04 396.05,62.28 396.25,61.55 396.45,60.84 396.67,60.16 396.89,59.51 397.11,58.87 397.34,58.25 397.56,57.63 397.78,57.03 398.00,56.45 398.22,55.88 398.44,55.31 398.65,54.73 398.87,54.13 399.09,53.50 399.31,52.84 399.52,52.17 399.74,51.50 399.96,50.84 400.18,50.21 400.41,49.60 400.63,49.00 400.86,48.41 401.10,47.84 401.34,47.27 401.61,46.71 401.89,46.15 402.20,45.59 402.52,45.04 402.84,44.51 403.16,44.00 403.47,43.53 403.76,43.10 404.05,42.71 404.33,42.34 404.62,41.99 404.91,41.65 405.21,41.30 405.53,40.97 405.85,40.67 406.17,40.37 406.50,40.07 406.84,39.75 407.18,39.40 407.53,39.00 407.89,38.58 408.25,38.14 408.62,37.69 408.99,37.26 409.37,36.85 409.76,36.46 410.16,36.08 410.56,35.71 410.97,35.36 411.37,35.03 411.78,34.73 412.18,34.46 412.59,34.22 412.99,34.00 413.40,33.81 413.79,33.64 414.18,33.49 414.55,33.37 414.90,33.28 415.25,33.21 415.60,33.16 415.97,33.13 416.37,33.10 416.81,33.09 417.28,33.10 417.76,33.13 418.26,33.16 418.74,33.18 419.21,33.18 419.66,33.16 420.11,33.13 420.55,33.09 420.99,33.04 421.41,32.99 421.84,32.93 422.24,32.87 422.63,32.80 423.01,32.73 423.40,32.64 423.81,32.55 424.24,32.46 424.70,32.33 425.16,32.16 425.64,31.99 426.15,31.84 426.70,31.73 427.30,31.68 427.98,31.72 428.72,31.83 429.50,31.98 430.31,32.14 431.11,32.30 431.90,32.42 432.66,32.53 433.43,32.67 434.19,32.80 434.96,32.89 435.72,32.91 436.49,32.84 437.23,32.64 437.95,32.33 438.68,31.96 439.42,31.56 440.21,31.17 441.08,30.84 442.04,30.54 443.07,30.22 444.16,29.92 445.26,29.66 446.36,29.47 447.42,29.37 448.47,29.40 449.52,29.55 450.57,29.76 451.60,30.00 452.59,30.24 453.55,30.42 454.44,30.58 455.29,30.74 456.10,30.90 456.91,31.03 457.73,31.12 458.58,31.16 459.46,31.13 460.37,31.05 461.28,30.93 462.21,30.79 463.13,30.65 464.05,30.53 464.97,30.41 465.91,30.27 466.85,30.13 467.77,30.01 468.66,29.92 469.51,29.90 470.30,29.94 471.04,30.03 471.74,30.17 472.44,30.32 473.14,30.48 473.89,30.63 474.67,30.78 475.49,30.92 476.32,31.08 477.14,31.24 477.94,31.41 478.70,31.58 479.42,31.76 480.12,31.94 480.80,32.14 481.45,32.33 482.06,32.53 482.63,32.73 483.15,32.93 483.62,33.13 484.06,33.34 484.47,33.55 484.86,33.76 485.26,33.99 485.66,34.23 486.04,34.48 486.42,34.73 486.78,34.99 487.12,35.27 487.45,35.57 487.74,35.88 488.00,36.20 488.25,36.53 488.49,36.89 488.73,37.27 488.98,37.67 489.23,38.11 489.50,38.57 489.76,39.06 490.01,39.57 490.27,40.09 490.51,40.61 490.74,41.12 490.98,41.61 491.20,42.12 491.42,42.66 491.63,43.27 491.82,43.98 491.99,44.79 492.14,45.70 492.28,46.67 492.42,47.69 492.55,48.74 492.69,49.78 492.84,50.76 492.98,51.67 493.12,52.61 493.26,53.66 493.41,54.91 493.57,56.46 493.74,58.44 493.92,60.78 494.10,63.33 494.29,65.92 494.48,68.39 494.66,70.56 494.85,72.43 495.03,74.12 495.21,75.68 495.39,77.17 495.57,78.62 495.76,80.10 495.94,81.56 496.12,82.97 496.30,84.34 496.49,85.71 496.67,87.12 496.85,88.58 497.03,90.11 497.21,91.68 497.40,93.28 497.58,94.90 497.76,96.52 497.94,98.12 498.13,99.70 498.31,101.26 498.49,102.82 498.67,104.40 498.85,106.01 499.04,107.66 499.22,109.43 499.42,111.32 499.61,113.24 499.80,115.10 499.97,116.81 500.13,118.26 500.26,119.44 500.37,120.43 500.46,121.26 500.55,121.98 500.66,122.62 500.79,123.24 500.94,123.81 501.10,124.29 501.28,124.69 501.47,125.05 501.67,125.37 501.88,125.68 502.10,125.97 502.33,126.21 502.58,126.43 502.84,126.62 503.11,126.79 503.41,126.95 503.61,127.10 503.69,127.23 503.78,127.35 504.03,127.45 504.59,127.53 505.60,127.59 507.30,127.62 509.65,127.64 512.30,127.63 514.91,127.61 517.17,127.60 518.72,127.59" fill="none" stroke="#3cc49a" stroke-width="0.9" stroke-linejoin="round"/>
<polyline points="387.50,126.32 387.60,126.27 387.73,126.21 387.88,126.14 388.05,126.06 388.22,125.97 388.37,125.89 388.52,125.87 388.67,125.93 388.83,125.98 388.97,125.95 389.12,125.77 389.25,125.36 389.37,124.75 389.48,123.99 389.59,123.08 389.70,122.01 389.80,120.76 389.91,119.32 390.02,117.59 390.12,115.54 390.23,113.32 390.34,111.06 390.45,108.88 390.56,106.92 390.67,105.18 390.78,103.57 390.89,102.04 391.00,100.56 391.11,99.09 391.22,97.59 391.32,96.07 391.42,94.57 391.52,93.09 391.62,91.60 391.74,90.10 391.87,88.58 392.03,87.02 392.20,85.41 392.38,83.80 392.57,82.21 392.77,80.68 392.97,79.25 393.18,77.92 393.40,76.67 393.64,75.48 393.87,74.34 394.08,73.23 394.28,72.15 394.45,71.09 394.60,70.07 394.73,69.09 394.86,68.14 395.00,67.22 395.15,66.32 395.32,65.45 395.49,64.62 395.67,63.82 395.86,63.04 396.05,62.28 396.25,61.55 396.45,60.84 396.67,60.16 396.89,59.51 397.11,58.87 397.34,58.25 397.56,57.63 397.78,57.03 398.00,56.45 398.22,55.88 398.44,55.31 398.65,54.73 398.87,54.13 399.09,53.50 399.31,52.84 399.52,52.17 399.74,51.50 399.96,50.84 400.18,50.21 400.41,49.60 400.63,49.00 400.86,48.41 401.10,47.84 401.34,47.27 401.61,46.71 401.89,46.15 402.20,45.59 402.52,45.04 402.84,44.51 403.16,44.00 403.47,43.53 403.76,43.10 404.05,42.71 404.33,42.34 404.62,41.99 404.91,41.65 405.21,41.30 405.53,40.97 405.85,40.67 406.17,40.37 406.50,40.07 406.84,39.75 407.18,39.40 407.53,39.00 407.89,38.58 408.25,38.14 408.62,37.69 408.99,37.26 409.37,36.85 409.76,36.46 410.16,36.08 410.56,35.71 410.97,35.36 411.37,35.03 411.78,34.73 412.18,34.46 412.59,34.22 412.99,34.00 413.40,33.80 413.79,33.62 414.18,33.46 414.55,33.32 414.90,33.21 415.25,33.12 415.60,33.05 415.97,32.99 416.37,32.93 416.81,32.89 417.28,32.88 417.76,32.87 418.26,32.87 418.74,32.86 419.21,32.82 419.66,32.77 420.11,32.71 420.55,32.65 420.99,32.57 421.41,32.49 421.84,32.40 422.24,32.31 422.63,32.22 423.01,32.12 423.40,32.01 423.81,31.89 424.24,31.76 424.70,31.60 425.16,31.41 425.64,31.20 426.15,31.01 426.70,30.87 427.30,30.81 427.98,30.84 428.72,30.94 429.50,31.09 430.31,31.27 431.11,31.43 431.90,31.55 432.66,31.67 433.43,31.81 434.19,31.94 434.96,32.03 435.72,32.05 436.49,31.98 437.23,31.78 437.95,31.47 438.68,31.09 439.42,30.68 440.21,30.30 441.08,29.96 442.04,29.65 443.07,29.33 444.16,29.03 445.26,28.76 446.36,28.57 447.42,28.48 448.47,28.51 449.52,28.65 450.57,28.87 451.60,29.11 452.59,29.35 453.55,29.54 454.44,29.70 455.29,29.86 456.10,30.01 456.91,30.15 457.73,30.24 458.58,30.28 459.46,30.25 460.37,30.17 461.28,30.05 462.21,29.91 463.13,29.77 464.05,29.64 464.97,29.52 465.91,29.38 466.85,29.24 467.77,29.12 468.66,29.03 469.51,29.01 470.30,29.05 471.04,29.15 471.74,29.28 472.44,29.44 473.14,29.60 473.89,29.75 474.67,29.89 475.49,30.04 476.32,30.20 477.14,30.36 477.94,30.53 478.70,30.70 479.42,30.88 480.12,31.07 480.80,31.27 481.45,31.47 482.06,31.67 482.63,31.87 483.15,32.07 483.62,32.27 484.06,32.48 484.47,32.69 484.86,32.91 485.26,33.14 485.66,33.38 486.04,33.63 486.42,33.88 486.78,34.15 487.12,34.43 487.45,34.73 487.74,35.04 488.00,35.37 488.25,35.71 488.49,36.06 488.73,36.44 488.98,36.85 489.23,37.29 489.50,37.76 489.76,38.25 490.01,38.76 490.27,39.28 490.51,39.82 490.74,40.34 490.98,40.85 491.20,41.38 491.42,41.94 491.63,42.58 491.82,43.32 491.99,44.17 492.14,45.11 492.28,46.13 492.42,47.19 492.55,48.27 492.69,49.36 492.84,50.37 492.98,51.32 493.12,52.29 493.26,53.37 493.41,54.66 493.57,56.25 493.74,58.26 493.92,60.65 494.10,63.24 494.29,65.87 494.48,68.37 494.66,70.56 494.85,72.44 495.03,74.13 495.21,75.69 495.39,77.18 495.57,78.63 495.76,80.10 495.94,81.56 496.12,82.97 496.30,84.34 496.49,85.71 496.67,87.12 496.85,88.58 497.03,90.11 497.21,91.68 497.40,93.28 497.58,94.90 497.76,96.52 497.94,98.12 498.13,99.70 498.31,101.26 498.49,102.82 498.67,104.40 498.85,106.01 499.04,107.66 499.22,109.43 499.42,111.32 499.61,113.24 499.80,115.10 499.97,116.81 500.13,118.26 500.26,119.44 500.37,120.43 500.46,121.26 500.55,121.98 500.66,122.62 500.79,123.24 500.94,123.81 501.10,124.29 501.28,124.69 501.47,125.05 501.67,125.37 501.88,125.68 502.10,125.97 502.33,126.21 502.58,126.43 502.84,126.62 503.11,126.79 503.41,126.95 503.61,127.10 503.69,127.23 503.78,127.35 504.03,127.45 504.59,127.53 505.60,127.59 507.30,127.62 509.65,127.64 512.30,127.63 514.91,127.61 517.17,127.60 518.72,127.59" fill="none" stroke="#e0731f" stroke-width="1.2" stroke-linejoin="round"/>
<polyline points="387.50,127.80 388.07,127.81 388.85,127.82 389.78,127.83 390.79,127.84 391.80,127.83 392.75,127.80 393.64,127.75 394.55,127.69 395.46,127.61 396.37,127.52 397.29,127.41 398.22,127.30 399.15,127.17 400.10,127.04 401.06,126.89 402.02,126.73 402.96,126.55 403.90,126.33 404.83,126.09 405.74,125.83 406.65,125.54 407.56,125.23 408.46,124.89 409.37,124.53 410.28,124.14 411.18,123.72 412.09,123.28 413.00,122.81 413.91,122.30 414.84,121.76 415.78,121.17 416.72,120.55 417.68,119.89 418.64,119.20 419.59,118.46 420.52,117.68 421.45,116.84 422.35,115.94 423.26,115.00 424.16,114.03 425.07,113.08 425.99,112.14 426.93,111.24 427.88,110.36 428.83,109.48 429.79,108.59 430.74,107.68 431.68,106.73 432.60,105.74 433.52,104.73 434.42,103.69 435.33,102.63 436.24,101.56 437.14,100.47 438.04,99.40 438.92,98.35 439.80,97.28 440.69,96.16 441.63,94.96 442.61,93.63 443.67,92.14 444.78,90.51 445.92,88.79 447.08,87.05 448.25,85.34 449.39,83.73 450.53,82.19 451.69,80.69 452.85,79.22 453.99,77.78 455.11,76.39 456.17,75.04 457.19,73.74 458.16,72.50 459.11,71.30 460.04,70.12 460.95,68.95 461.86,67.77 462.75,66.59 463.62,65.43 464.48,64.27 465.34,63.11 466.21,61.94 467.11,60.76 468.03,59.57 468.98,58.35 469.94,57.13 470.90,55.91 471.85,54.70 472.79,53.50 473.74,52.29 474.70,51.06 475.66,49.84 476.59,48.65 477.47,47.54 478.26,46.53 478.96,45.66 479.59,44.89 480.16,44.19 480.70,43.53 481.22,42.87 481.76,42.17 482.30,41.42 482.84,40.66 483.36,39.89 483.87,39.14 484.35,38.41 484.82,37.72 485.26,37.07 485.68,36.45 486.08,35.86 486.47,35.29 486.85,34.74 487.23,34.19 487.60,33.66 487.97,33.16 488.33,32.66 488.69,32.18 489.05,31.71 489.41,31.26 489.78,30.81 490.14,30.38 490.51,29.96 490.87,29.55 491.24,29.14 491.60,28.74 491.97,28.33 492.33,27.91 492.69,27.50 493.06,27.10 493.42,26.74 493.79,26.43 494.15,26.16 494.52,25.94 494.88,25.74 495.25,25.58 495.61,25.43 495.98,25.29 496.33,25.18 496.67,25.09 497.01,25.02 497.37,24.97 497.75,24.92 498.16,24.87 498.45,24.84 498.58,24.81 498.74,24.79 499.10,24.77 499.87,24.76 501.22,24.75 503.51,24.74 506.63,24.74 510.16,24.74 513.65,24.74 516.65,24.75 518.72,24.75" fill="none" stroke="#3cc49a" stroke-width="1.1" stroke-linejoin="round"/>
<polyline points="387.50,127.80 388.07,127.81 388.85,127.82 389.78,127.83 390.79,127.84 391.80,127.83 392.75,127.80 393.64,127.75 394.55,127.69 395.46,127.61 396.37,127.51 397.29,127.41 398.22,127.29 399.15,127.17 400.10,127.03 401.06,126.89 402.02,126.72 402.96,126.53 403.90,126.32 404.83,126.07 405.74,125.81 406.65,125.52 407.56,125.20 408.46,124.86 409.37,124.49 410.28,124.10 411.18,123.68 412.09,123.24 413.00,122.76 413.91,122.25 414.84,121.69 415.78,121.10 416.72,120.48 417.68,119.81 418.64,119.11 419.59,118.37 420.52,117.58 421.45,116.73 422.35,115.82 423.26,114.87 424.16,113.90 425.07,112.93 425.99,111.98 426.93,111.08 427.88,110.18 428.83,109.30 429.79,108.40 430.74,107.47 431.68,106.52 432.60,105.52 433.52,104.49 434.42,103.45 435.33,102.38 436.24,101.29 437.14,100.20 438.04,99.12 438.92,98.05 439.80,96.97 440.69,95.84 441.63,94.62 442.61,93.29 443.67,91.78 444.78,90.13 445.92,88.40 447.08,86.64 448.25,84.91 449.39,83.28 450.53,81.73 451.69,80.21 452.85,78.72 453.99,77.28 455.11,75.87 456.17,74.50 457.19,73.19 458.16,71.94 459.11,70.73 460.04,69.54 460.95,68.36 461.86,67.17 462.75,65.98 463.62,64.80 464.48,63.63 465.34,62.46 466.21,61.28 467.11,60.09 468.03,58.88 468.98,57.65 469.94,56.42 470.90,55.18 471.85,53.96 472.79,52.75 473.74,51.53 474.70,50.29 475.66,49.05 476.59,47.85 477.47,46.73 478.26,45.71 478.96,44.83 479.59,44.05 480.16,43.35 480.70,42.68 481.22,42.01 481.76,41.30 482.30,40.55 482.84,39.78 483.36,39.00 483.87,38.24 484.35,37.51 484.82,36.81 485.26,36.16 485.68,35.53 486.08,34.93 486.47,34.36 486.85,33.80 487.23,33.25 487.60,32.71 487.97,32.20 488.33,31.70 488.69,31.22 489.05,30.74 489.41,30.28 489.78,29.83 490.14,29.39 490.51,28.97 490.87,28.55 491.24,28.14 491.60,27.74 491.97,27.32 492.33,26.90 492.69,26.48 493.06,26.09 493.42,25.72 493.79,25.40 494.15,25.14 494.52,24.91 494.88,24.71 495.25,24.54 495.61,24.39 495.98,24.26 496.33,24.14 496.67,24.05 497.01,23.98 497.37,23.93 497.75,23.88 498.16,23.84 498.45,23.80 498.58,23.77 498.74,23.75 499.10,23.73 499.87,23.72 501.22,23.71 503.51,23.70 506.63,23.70 510.16,23.70 513.65,23.70 516.65,23.71 518.72,23.71" fill="none" stroke="#e0731f" stroke-width="1.2" stroke-linejoin="round"/>
</g>
<rect x="387.5" y="16.4" width="131.20000000000005" height="111.9" fill="none" stroke="#1e1e1e" stroke-width="1.15"/>
<line x1="387.5" y1="128.3" x2="387.5" y2="130.5" stroke="#1e1e1e" stroke-width="1"/>
<line x1="398.43" y1="128.3" x2="398.43" y2="126.70000000000002" stroke="#1e1e1e" stroke-width="0.9"/>
<text x="387.5" y="140.5" font-size="9.6" text-anchor="middle" textLength="14.6" lengthAdjust="spacingAndGlyphs" fill="#1a1a1a">300</text>
<line x1="409.37" y1="128.3" x2="409.37" y2="130.5" stroke="#1e1e1e" stroke-width="1"/>
<line x1="420.3" y1="128.3" x2="420.3" y2="126.70000000000002" stroke="#1e1e1e" stroke-width="0.9"/>
<text x="409.37" y="140.5" font-size="9.6" text-anchor="middle" textLength="14.6" lengthAdjust="spacingAndGlyphs" fill="#1a1a1a">400</text>
<line x1="431.24" y1="128.3" x2="431.24" y2="130.5" stroke="#1e1e1e" stroke-width="1"/>
<line x1="442.17" y1="128.3" x2="442.17" y2="126.70000000000002" stroke="#1e1e1e" stroke-width="0.9"/>
<text x="431.24" y="140.5" font-size="9.6" text-anchor="middle" textLength="14.6" lengthAdjust="spacingAndGlyphs" fill="#1a1a1a">500</text>
<line x1="453.11" y1="128.3" x2="453.11" y2="130.5" stroke="#1e1e1e" stroke-width="1"/>
<line x1="464.04" y1="128.3" x2="464.04" y2="126.70000000000002" stroke="#1e1e1e" stroke-width="0.9"/>
<text x="453.11" y="140.5" font-size="9.6" text-anchor="middle" textLength="14.6" lengthAdjust="spacingAndGlyphs" fill="#1a1a1a">600</text>
<line x1="474.98" y1="128.3" x2="474.98" y2="130.5" stroke="#1e1e1e" stroke-width="1"/>
<line x1="485.91" y1="128.3" x2="485.91" y2="126.70000000000002" stroke="#1e1e1e" stroke-width="0.9"/>
<text x="474.98" y="140.5" font-size="9.6" text-anchor="middle" textLength="14.6" lengthAdjust="spacingAndGlyphs" fill="#1a1a1a">700</text>
<line x1="496.85" y1="128.3" x2="496.85" y2="130.5" stroke="#1e1e1e" stroke-width="1"/>
<line x1="507.78000000000003" y1="128.3" x2="507.78000000000003" y2="126.70000000000002" stroke="#1e1e1e" stroke-width="0.9"/>
<text x="496.85" y="140.5" font-size="9.6" text-anchor="middle" textLength="14.6" lengthAdjust="spacingAndGlyphs" fill="#1a1a1a">800</text>
<line x1="518.72" y1="128.3" x2="518.72" y2="130.5" stroke="#1e1e1e" stroke-width="1"/>
<text x="518.72" y="140.5" font-size="9.6" text-anchor="middle" textLength="14.6" lengthAdjust="spacingAndGlyphs" fill="#1a1a1a">900</text>
<line x1="387.5" y1="127.8" x2="385.3" y2="127.8" stroke="#1e1e1e" stroke-width="1"/>
<line x1="387.5" y1="117.19999999999999" x2="389.1" y2="117.19999999999999" stroke="#1e1e1e" stroke-width="0.9"/>
<text x="383.0" y="131.1" font-size="9.4" text-anchor="end" fill="#1a1a1a">0</text>
<line x1="518.7" y1="127.8" x2="520.9000000000001" y2="127.8" stroke="#1e1e1e" stroke-width="1"/>
<line x1="518.7" y1="117.19999999999999" x2="517.1" y2="117.19999999999999" stroke="#1e1e1e" stroke-width="0.9"/>
<text x="522.6" y="131.1" font-size="9.4" fill="#1a1a1a">0</text>
<line x1="387.5" y1="106.6" x2="385.3" y2="106.6" stroke="#1e1e1e" stroke-width="1"/>
<line x1="387.5" y1="96.0" x2="389.1" y2="96.0" stroke="#1e1e1e" stroke-width="0.9"/>
<text x="383.0" y="109.89999999999999" font-size="9.4" text-anchor="end" fill="#1a1a1a">20</text>
<line x1="518.7" y1="106.6" x2="520.9000000000001" y2="106.6" stroke="#1e1e1e" stroke-width="1"/>
<line x1="518.7" y1="96.0" x2="517.1" y2="96.0" stroke="#1e1e1e" stroke-width="0.9"/>
<text x="522.6" y="109.89999999999999" font-size="9.4" fill="#1a1a1a">5</text>
<line x1="387.5" y1="85.39999999999999" x2="385.3" y2="85.39999999999999" stroke="#1e1e1e" stroke-width="1"/>
<line x1="387.5" y1="74.79999999999998" x2="389.1" y2="74.79999999999998" stroke="#1e1e1e" stroke-width="0.9"/>
<text x="383.0" y="88.69999999999999" font-size="9.4" text-anchor="end" fill="#1a1a1a">40</text>
<line x1="518.7" y1="85.39999999999999" x2="520.9000000000001" y2="85.39999999999999" stroke="#1e1e1e" stroke-width="1"/>
<line x1="518.7" y1="74.79999999999998" x2="517.1" y2="74.79999999999998" stroke="#1e1e1e" stroke-width="0.9"/>
<text x="522.6" y="88.69999999999999" font-size="9.4" fill="#1a1a1a">10</text>
<line x1="387.5" y1="64.19999999999999" x2="385.3" y2="64.19999999999999" stroke="#1e1e1e" stroke-width="1"/>
<line x1="387.5" y1="53.59999999999999" x2="389.1" y2="53.59999999999999" stroke="#1e1e1e" stroke-width="0.9"/>
<text x="383.0" y="67.49999999999999" font-size="9.4" text-anchor="end" fill="#1a1a1a">60</text>
<line x1="518.7" y1="64.19999999999999" x2="520.9000000000001" y2="64.19999999999999" stroke="#1e1e1e" stroke-width="1"/>
<line x1="518.7" y1="53.59999999999999" x2="517.1" y2="53.59999999999999" stroke="#1e1e1e" stroke-width="0.9"/>
<text x="522.6" y="67.49999999999999" font-size="9.4" fill="#1a1a1a">15</text>
<line x1="387.5" y1="42.999999999999986" x2="385.3" y2="42.999999999999986" stroke="#1e1e1e" stroke-width="1"/>
<line x1="387.5" y1="32.399999999999984" x2="389.1" y2="32.399999999999984" stroke="#1e1e1e" stroke-width="0.9"/>
<text x="383.0" y="46.29999999999998" font-size="9.4" text-anchor="end" fill="#1a1a1a">80</text>
<line x1="518.7" y1="42.999999999999986" x2="520.9000000000001" y2="42.999999999999986" stroke="#1e1e1e" stroke-width="1"/>
<line x1="518.7" y1="32.399999999999984" x2="517.1" y2="32.399999999999984" stroke="#1e1e1e" stroke-width="0.9"/>
<text x="522.6" y="46.29999999999998" font-size="9.4" fill="#1a1a1a">20</text>
<line x1="387.5" y1="21.799999999999997" x2="385.3" y2="21.799999999999997" stroke="#1e1e1e" stroke-width="1"/>
<text x="383.0" y="25.099999999999998" font-size="9.4" text-anchor="end" fill="#1a1a1a">100</text>
<line x1="518.7" y1="21.799999999999997" x2="520.9000000000001" y2="21.799999999999997" stroke="#1e1e1e" stroke-width="1"/>
<text x="522.6" y="25.099999999999998" font-size="9.4" fill="#1a1a1a">25</text>
<text x="453.2" y="149.5" font-size="10.6" text-anchor="middle" textLength="74" lengthAdjust="spacingAndGlyphs" fill="#1a1a1a" style="stroke-width:0.1px">Wavelength (nm)</text>
<text font-size="10.3" fill="#1a1a1a" transform="translate(369.4,71.6) rotate(-90)" text-anchor="middle" textLength="42" lengthAdjust="spacingAndGlyphs">EQE (%)</text>
<text font-size="11.2" fill="#1a1a1a" transform="translate(541.8,70) rotate(-90)" text-anchor="middle">Integrated <tspan font-style="italic">J</tspan> (mA cm<tspan dy="-3.5" font-size="6.5">-2</tspan><tspan dy="3.5">)</tspan></text>
<text x="353.9" y="16.4" font-size="17.4" fill="#1a1a1a" style="stroke-width:0">(c)</text>
<ellipse cx="407.4" cy="35" rx="4.6" ry="11.3" fill="none" stroke="#1a1a1a" stroke-width="1.3"/>
<line x1="402.5" y1="33.3" x2="396" y2="33.3" stroke="#1a1a1a" stroke-width="1.2"/>
<polygon points="390.6,33.3 398.8,31.1 398.8,35.5" fill="#111"/>
<ellipse cx="475.1" cy="51.6" rx="4.6" ry="11.8" fill="none" stroke="#1a1a1a" stroke-width="1.3"/>
<line x1="479.5" y1="59.6" x2="485" y2="59.6" stroke="#1a1a1a" stroke-width="1.2"/>
<polygon points="491.2,59.6 482.6,57.4 482.6,61.8" fill="#111"/>
<polyline points="428.60,110.60 441.60,110.60" fill="none" stroke="#3cc49a" stroke-width="1.3" stroke-linejoin="round"/>
<polyline points="428.60,122.50 441.60,122.50" fill="none" stroke="#e0731f" stroke-width="1.3" stroke-linejoin="round"/>
<text x="444.2" y="114.1" font-size="9.6" textLength="30.5" lengthAdjust="spacingAndGlyphs" fill="#1a1a1a">Control</text>
<text x="444.2" y="126.0" font-size="9.6" textLength="55.0" lengthAdjust="spacingAndGlyphs" fill="#1a1a1a">MHyI-treated</text>
<clipPath id="cd"><rect x="34.3" y="164.5" width="223.89999999999998" height="128.10000000000002"/></clipPath>
<g clip-path="url(#cd)">
<polyline points="34.30,199.20 49.23,196.80 64.15,199.20 79.08,202.40 94.01,203.20 108.93,207.20 123.86,212.00 138.79,216.00 153.71,220.16 168.64,225.76 183.57,233.44 198.49,240.64 213.42,247.04 228.35,258.24 243.27,264.24 258.20,274.40" fill="none" stroke="#3cb893" stroke-width="1.4" stroke-linejoin="round"/>
<circle cx="34.30" cy="199.20" r="2.5" fill="url(#rg)" stroke="#3cb893" stroke-width="0.5"/>
<circle cx="49.23" cy="196.80" r="2.5" fill="url(#rg)" stroke="#3cb893" stroke-width="0.5"/>
<circle cx="64.15" cy="199.20" r="2.5" fill="url(#rg)" stroke="#3cb893" stroke-width="0.5"/>
<circle cx="79.08" cy="202.40" r="2.5" fill="url(#rg)" stroke="#3cb893" stroke-width="0.5"/>
<circle cx="94.01" cy="203.20" r="2.5" fill="url(#rg)" stroke="#3cb893" stroke-width="0.5"/>
<circle cx="108.93" cy="207.20" r="2.5" fill="url(#rg)" stroke="#3cb893" stroke-width="0.5"/>
<circle cx="123.86" cy="212.00" r="2.5" fill="url(#rg)" stroke="#3cb893" stroke-width="0.5"/>
<circle cx="138.79" cy="216.00" r="2.5" fill="url(#rg)" stroke="#3cb893" stroke-width="0.5"/>
<circle cx="153.71" cy="220.16" r="2.5" fill="url(#rg)" stroke="#3cb893" stroke-width="0.5"/>
<circle cx="168.64" cy="225.76" r="2.5" fill="url(#rg)" stroke="#3cb893" stroke-width="0.5"/>
<circle cx="183.57" cy="233.44" r="2.5" fill="url(#rg)" stroke="#3cb893" stroke-width="0.5"/>
<circle cx="198.49" cy="240.64" r="2.5" fill="url(#rg)" stroke="#3cb893" stroke-width="0.5"/>
<circle cx="213.42" cy="247.04" r="2.5" fill="url(#rg)" stroke="#3cb893" stroke-width="0.5"/>
<circle cx="228.35" cy="258.24" r="2.5" fill="url(#rg)" stroke="#3cb893" stroke-width="0.5"/>
<circle cx="243.27" cy="264.24" r="2.5" fill="url(#rg)" stroke="#3cb893" stroke-width="0.5"/>
<circle cx="258.20" cy="274.40" r="2.5" fill="url(#rg)" stroke="#3cb893" stroke-width="0.5"/>
<polyline points="34.30,188.00 49.23,186.40 64.15,187.20 79.08,188.80 94.01,189.20 108.93,192.00 123.86,195.20 138.79,196.00 153.71,197.28 168.64,199.52 183.57,200.80 198.49,201.92 213.42,204.08 228.35,205.60 243.27,207.52 258.20,210.00" fill="none" stroke="#e06a1d" stroke-width="1.4" stroke-linejoin="round"/>
<circle cx="34.30" cy="188.00" r="2.5" fill="url(#ro)" stroke="#e06a1d" stroke-width="0.5"/>
<circle cx="49.23" cy="186.40" r="2.5" fill="url(#ro)" stroke="#e06a1d" stroke-width="0.5"/>
<circle cx="64.15" cy="187.20" r="2.5" fill="url(#ro)" stroke="#e06a1d" stroke-width="0.5"/>
<circle cx="79.08" cy="188.80" r="2.5" fill="url(#ro)" stroke="#e06a1d" stroke-width="0.5"/>
<circle cx="94.01" cy="189.20" r="2.5" fill="url(#ro)" stroke="#e06a1d" stroke-width="0.5"/>
<circle cx="108.93" cy="192.00" r="2.5" fill="url(#ro)" stroke="#e06a1d" stroke-width="0.5"/>
<circle cx="123.86" cy="195.20" r="2.5" fill="url(#ro)" stroke="#e06a1d" stroke-width="0.5"/>
<circle cx="138.79" cy="196.00" r="2.5" fill="url(#ro)" stroke="#e06a1d" stroke-width="0.5"/>
<circle cx="153.71" cy="197.28" r="2.5" fill="url(#ro)" stroke="#e06a1d" stroke-width="0.5"/>
<circle cx="168.64" cy="199.52" r="2.5" fill="url(#ro)" stroke="#e06a1d" stroke-width="0.5"/>
<circle cx="183.57" cy="200.80" r="2.5" fill="url(#ro)" stroke="#e06a1d" stroke-width="0.5"/>
<circle cx="198.49" cy="201.92" r="2.5" fill="url(#ro)" stroke="#e06a1d" stroke-width="0.5"/>
<circle cx="213.42" cy="204.08" r="2.5" fill="url(#ro)" stroke="#e06a1d" stroke-width="0.5"/>
<circle cx="228.35" cy="205.60" r="2.5" fill="url(#ro)" stroke="#e06a1d" stroke-width="0.5"/>
<circle cx="243.27" cy="207.52" r="2.5" fill="url(#ro)" stroke="#e06a1d" stroke-width="0.5"/>
<circle cx="258.20" cy="210.00" r="2.5" fill="url(#ro)" stroke="#e06a1d" stroke-width="0.5"/>
</g>
<rect x="34.3" y="164.5" width="223.89999999999998" height="128.10000000000002" fill="none" stroke="#1e1e1e" stroke-width="1.15"/>
<line x1="34.3" y1="292.6" x2="34.3" y2="294.8" stroke="#1e1e1e" stroke-width="1"/>
<line x1="52.95833333333333" y1="292.6" x2="52.95833333333333" y2="291.0" stroke="#1e1e1e" stroke-width="0.9"/>
<text x="34.3" y="306.3" font-size="10.6" text-anchor="middle" fill="#1a1a1a">0</text>
<line x1="71.61666666666667" y1="292.6" x2="71.61666666666667" y2="294.8" stroke="#1e1e1e" stroke-width="1"/>
<line x1="90.275" y1="292.6" x2="90.275" y2="291.0" stroke="#1e1e1e" stroke-width="0.9"/>
<text x="71.61666666666667" y="306.3" font-size="10.6" text-anchor="middle" fill="#1a1a1a">5</text>
<line x1="108.93333333333334" y1="292.6" x2="108.93333333333334" y2="294.8" stroke="#1e1e1e" stroke-width="1"/>
<line x1="127.59166666666667" y1="292.6" x2="127.59166666666667" y2="291.0" stroke="#1e1e1e" stroke-width="0.9"/>
<text x="108.93333333333334" y="306.3" font-size="10.6" text-anchor="middle" fill="#1a1a1a">10</text>
<line x1="146.25" y1="292.6" x2="146.25" y2="294.8" stroke="#1e1e1e" stroke-width="1"/>
<line x1="164.90833333333333" y1="292.6" x2="164.90833333333333" y2="291.0" stroke="#1e1e1e" stroke-width="0.9"/>
<text x="146.25" y="306.3" font-size="10.6" text-anchor="middle" fill="#1a1a1a">15</text>
<line x1="183.56666666666666" y1="292.6" x2="183.56666666666666" y2="294.8" stroke="#1e1e1e" stroke-width="1"/>
<line x1="202.225" y1="292.6" x2="202.225" y2="291.0" stroke="#1e1e1e" stroke-width="0.9"/>
<text x="183.56666666666666" y="306.3" font-size="10.6" text-anchor="middle" fill="#1a1a1a">20</text>
<line x1="220.88333333333333" y1="292.6" x2="220.88333333333333" y2="294.8" stroke="#1e1e1e" stroke-width="1"/>
<line x1="239.54166666666666" y1="292.6" x2="239.54166666666666" y2="291.0" stroke="#1e1e1e" stroke-width="0.9"/>
<text x="220.88333333333333" y="306.3" font-size="10.6" text-anchor="middle" fill="#1a1a1a">25</text>
<line x1="258.2" y1="292.6" x2="258.2" y2="294.8" stroke="#1e1e1e" stroke-width="1"/>
<text x="258.2" y="306.3" font-size="10.6" text-anchor="middle" fill="#1a1a1a">30</text>
<line x1="34.3" y1="276.0" x2="32.099999999999994" y2="276.0" stroke="#1e1e1e" stroke-width="1"/>
<line x1="34.3" y1="260.0" x2="35.9" y2="260.0" stroke="#1e1e1e" stroke-width="0.9"/>
<text x="29.6" y="279.7" font-size="10.6" text-anchor="end" fill="#1a1a1a">12</text>
<line x1="34.3" y1="244.0" x2="32.099999999999994" y2="244.0" stroke="#1e1e1e" stroke-width="1"/>
<line x1="34.3" y1="228.0" x2="35.9" y2="228.0" stroke="#1e1e1e" stroke-width="0.9"/>
<text x="29.6" y="247.7" font-size="10.6" text-anchor="end" fill="#1a1a1a">16</text>
<line x1="34.3" y1="212.0" x2="32.099999999999994" y2="212.0" stroke="#1e1e1e" stroke-width="1"/>
<line x1="34.3" y1="196.0" x2="35.9" y2="196.0" stroke="#1e1e1e" stroke-width="0.9"/>
<text x="29.6" y="215.7" font-size="10.6" text-anchor="end" fill="#1a1a1a">20</text>
<line x1="34.3" y1="180.0" x2="32.099999999999994" y2="180.0" stroke="#1e1e1e" stroke-width="1"/>
<line x1="34.3" y1="164.0" x2="35.9" y2="164.0" stroke="#1e1e1e" stroke-width="0.9"/>
<text x="29.6" y="183.7" font-size="10.6" text-anchor="end" fill="#1a1a1a">24</text>
<line x1="34.3" y1="292.0" x2="35.9" y2="292.0" stroke="#1e1e1e" stroke-width="0.9"/>
<text x="146.2" y="318.3" font-size="12" text-anchor="middle" textLength="63.6" lengthAdjust="spacingAndGlyphs" fill="#1a1a1a" style="stroke-width:0.12px">Time (days)</text>
<text font-size="11.2" fill="#1a1a1a" transform="translate(15.3,230.4) rotate(-90)" text-anchor="middle" textLength="50.4" lengthAdjust="spacingAndGlyphs" style="stroke-width:0.12px">PCE (%)</text>
<text x="4.75" y="165.8" font-size="17.2" fill="#1a1a1a" style="stroke-width:0">(d)</text>
<polyline points="171.80,173.10 186.90,173.10" fill="none" stroke="#3cb893" stroke-width="1.4" stroke-linejoin="round"/>
<circle cx="179.6" cy="173.1" r="2.4" fill="url(#rg)" stroke="#3cb893" stroke-width="0.5"/>
<polyline points="171.80,186.90 186.90,186.90" fill="none" stroke="#e06a1d" stroke-width="1.4" stroke-linejoin="round"/>
<circle cx="179.6" cy="186.9" r="2.4" fill="url(#ro)" stroke="#e06a1d" stroke-width="0.5"/>
<text x="190" y="176.9" font-size="10.8" textLength="34.5" lengthAdjust="spacingAndGlyphs" fill="#1a1a1a">Control</text>
<text x="190" y="190.8" font-size="10.8" textLength="63.1" lengthAdjust="spacingAndGlyphs" fill="#1a1a1a">MHyI-treated</text>
<text x="42.8" y="277.2" font-size="8.7" textLength="203.4" lengthAdjust="spacingAndGlyphs" fill="#1a1a1a" style="stroke-width:0.1px">Unencapsulated devices in an ambient environment</text>
<text x="42.8" y="287.8" font-size="8.7" textLength="66.5" lengthAdjust="spacingAndGlyphs" fill="#1a1a1a" style="stroke-width:0.1px">@25 <tspan fill="#707070" style="stroke-width:0">&#176;C</tspan>, 30% RH</text>
<defs>
<radialGradient id="dg" cx="0.4" cy="0.4" r="0.6"><stop offset="0" stop-color="#94dac3"/><stop offset="0.45" stop-color="#4cbc98"/><stop offset="1" stop-color="#33a882"/></radialGradient>
<radialGradient id="do" cx="0.4" cy="0.4" r="0.6"><stop offset="0" stop-color="#f3a46c"/><stop offset="0.45" stop-color="#e46b1f"/><stop offset="1" stop-color="#d55c12"/></radialGradient>
</defs>
<rect x="312.0" y="165.3" width="224.39999999999998" height="127.69999999999999" fill="none" stroke="#1e1e1e" stroke-width="1.15"/>
<clipPath id="ce"><rect x="311.6" y="165.3" width="224.79999999999998" height="127.69999999999999"/></clipPath>
<g clip-path="url(#ce)">
<circle cx="312.0" cy="185.3" r="2.35" fill="url(#dg)"/>
<circle cx="312.5" cy="184.4" r="2.35" fill="url(#dg)"/>
<circle cx="313.1" cy="185.6" r="2.35" fill="url(#dg)"/>
<circle cx="313.6" cy="185.9" r="2.35" fill="url(#dg)"/>
<circle cx="314.1" cy="186.8" r="2.35" fill="url(#dg)"/>
<circle cx="314.7" cy="186.1" r="2.35" fill="url(#dg)"/>
<circle cx="315.2" cy="184.5" r="2.35" fill="url(#dg)"/>
<circle cx="315.7" cy="185.6" r="2.35" fill="url(#dg)"/>
<circle cx="316.3" cy="185.0" r="2.35" fill="url(#dg)"/>
<circle cx="316.8" cy="186.2" r="2.35" fill="url(#dg)"/>
<circle cx="317.3" cy="186.2" r="2.35" fill="url(#dg)"/>
<circle cx="317.9" cy="186.6" r="2.35" fill="url(#dg)"/>
<circle cx="318.4" cy="189.2" r="2.35" fill="url(#dg)"/>
<circle cx="318.9" cy="186.1" r="2.35" fill="url(#dg)"/>
<circle cx="319.5" cy="186.8" r="2.35" fill="url(#dg)"/>
<circle cx="320.0" cy="187.0" r="2.35" fill="url(#dg)"/>
<circle cx="320.5" cy="190.1" r="2.35" fill="url(#dg)"/>
<circle cx="321.1" cy="190.4" r="2.35" fill="url(#dg)"/>
<circle cx="321.6" cy="189.5" r="2.35" fill="url(#dg)"/>
<circle cx="322.1" cy="189.1" r="2.35" fill="url(#dg)"/>
<circle cx="322.7" cy="188.3" r="2.35" fill="url(#dg)"/>
<circle cx="323.2" cy="189.0" r="2.35" fill="url(#dg)"/>
<circle cx="323.7" cy="188.5" r="2.35" fill="url(#dg)"/>
<circle cx="324.3" cy="190.2" r="2.35" fill="url(#dg)"/>
<circle cx="324.8" cy="189.2" r="2.35" fill="url(#dg)"/>
<circle cx="325.3" cy="189.2" r="2.35" fill="url(#dg)"/>
<circle cx="325.9" cy="190.7" r="2.35" fill="url(#dg)"/>
<circle cx="326.4" cy="194.9" r="2.35" fill="url(#dg)"/>
<circle cx="326.9" cy="190.9" r="2.35" fill="url(#dg)"/>
<circle cx="327.5" cy="195.1" r="2.35" fill="url(#dg)"/>
<circle cx="328.0" cy="189.8" r="2.35" fill="url(#dg)"/>
<circle cx="328.5" cy="195.8" r="2.35" fill="url(#dg)"/>
<circle cx="329.1" cy="191.7" r="2.35" fill="url(#dg)"/>
<circle cx="329.6" cy="190.4" r="2.35" fill="url(#dg)"/>
<circle cx="330.1" cy="190.8" r="2.35" fill="url(#dg)"/>
<circle cx="330.7" cy="189.3" r="2.35" fill="url(#dg)"/>
<circle cx="331.2" cy="191.3" r="2.35" fill="url(#dg)"/>
<circle cx="331.7" cy="198.5" r="2.35" fill="url(#dg)"/>
<circle cx="332.3" cy="191.4" r="2.35" fill="url(#dg)"/>
<circle cx="332.8" cy="200.0" r="2.35" fill="url(#dg)"/>
<circle cx="333.4" cy="191.5" r="2.35" fill="url(#dg)"/>
<circle cx="333.9" cy="201.4" r="2.35" fill="url(#dg)"/>
<circle cx="334.4" cy="193.3" r="2.35" fill="url(#dg)"/>
<circle cx="335.0" cy="192.9" r="2.35" fill="url(#dg)"/>
<circle cx="335.5" cy="190.6" r="2.35" fill="url(#dg)"/>
<circle cx="336.0" cy="200.6" r="2.35" fill="url(#dg)"/>
<circle cx="336.6" cy="194.8" r="2.35" fill="url(#dg)"/>
<circle cx="337.1" cy="201.7" r="2.35" fill="url(#dg)"/>
<circle cx="337.6" cy="192.6" r="2.35" fill="url(#dg)"/>
<circle cx="338.2" cy="197.0" r="2.35" fill="url(#dg)"/>
<circle cx="338.7" cy="195.5" r="2.35" fill="url(#dg)"/>
<circle cx="339.2" cy="200.9" r="2.35" fill="url(#dg)"/>
<circle cx="339.8" cy="191.5" r="2.35" fill="url(#dg)"/>
<circle cx="340.3" cy="192.2" r="2.35" fill="url(#dg)"/>
<circle cx="340.8" cy="198.0" r="2.35" fill="url(#dg)"/>
<circle cx="341.4" cy="204.8" r="2.35" fill="url(#dg)"/>
<circle cx="341.9" cy="197.4" r="2.35" fill="url(#dg)"/>
<circle cx="342.4" cy="200.1" r="2.35" fill="url(#dg)"/>
<circle cx="343.0" cy="200.5" r="2.35" fill="url(#dg)"/>
<circle cx="343.5" cy="201.2" r="2.35" fill="url(#dg)"/>
<circle cx="344.0" cy="191.5" r="2.35" fill="url(#dg)"/>
<circle cx="344.6" cy="194.4" r="2.35" fill="url(#dg)"/>
<circle cx="345.1" cy="194.0" r="2.35" fill="url(#dg)"/>
<circle cx="345.6" cy="194.4" r="2.35" fill="url(#dg)"/>
<circle cx="346.2" cy="198.2" r="2.35" fill="url(#dg)"/>
<circle cx="346.7" cy="203.5" r="2.35" fill="url(#dg)"/>
<circle cx="347.2" cy="198.2" r="2.35" fill="url(#dg)"/>
<circle cx="347.8" cy="198.1" r="2.35" fill="url(#dg)"/>
<circle cx="348.3" cy="199.6" r="2.35" fill="url(#dg)"/>
<circle cx="348.8" cy="204.0" r="2.35" fill="url(#dg)"/>
<circle cx="349.4" cy="201.5" r="2.35" fill="url(#dg)"/>
<circle cx="349.9" cy="200.2" r="2.35" fill="url(#dg)"/>
<circle cx="350.4" cy="192.8" r="2.35" fill="url(#dg)"/>
<circle cx="351.0" cy="199.8" r="2.35" fill="url(#dg)"/>
<circle cx="351.5" cy="200.7" r="2.35" fill="url(#dg)"/>
<circle cx="352.0" cy="196.0" r="2.35" fill="url(#dg)"/>
<circle cx="352.6" cy="196.4" r="2.35" fill="url(#dg)"/>
<circle cx="353.1" cy="196.6" r="2.35" fill="url(#dg)"/>
<circle cx="353.6" cy="202.9" r="2.35" fill="url(#dg)"/>
<circle cx="354.2" cy="196.0" r="2.35" fill="url(#dg)"/>
<circle cx="354.7" cy="202.2" r="2.35" fill="url(#dg)"/>
<circle cx="355.2" cy="208.6" r="2.35" fill="url(#dg)"/>
<circle cx="355.8" cy="206.3" r="2.35" fill="url(#dg)"/>
<circle cx="356.3" cy="199.6" r="2.35" fill="url(#dg)"/>
<circle cx="356.8" cy="196.2" r="2.35" fill="url(#dg)"/>
<circle cx="357.4" cy="200.0" r="2.35" fill="url(#dg)"/>
<circle cx="357.9" cy="200.1" r="2.35" fill="url(#dg)"/>
<circle cx="358.4" cy="205.3" r="2.35" fill="url(#dg)"/>
<circle cx="359.0" cy="207.5" r="2.35" fill="url(#dg)"/>
<circle cx="359.5" cy="201.0" r="2.35" fill="url(#dg)"/>
<circle cx="360.0" cy="205.3" r="2.35" fill="url(#dg)"/>
<circle cx="360.6" cy="200.8" r="2.35" fill="url(#dg)"/>
<circle cx="361.1" cy="208.0" r="2.35" fill="url(#dg)"/>
<circle cx="361.6" cy="209.5" r="2.35" fill="url(#dg)"/>
<circle cx="362.2" cy="200.7" r="2.35" fill="url(#dg)"/>
<circle cx="362.7" cy="205.4" r="2.35" fill="url(#dg)"/>
<circle cx="363.2" cy="203.6" r="2.35" fill="url(#dg)"/>
<circle cx="363.8" cy="204.8" r="2.35" fill="url(#dg)"/>
<circle cx="364.3" cy="203.8" r="2.35" fill="url(#dg)"/>
<circle cx="364.8" cy="215.9" r="2.35" fill="url(#dg)"/>
<circle cx="365.4" cy="206.4" r="2.35" fill="url(#dg)"/>
<circle cx="365.9" cy="208.5" r="2.35" fill="url(#dg)"/>
<circle cx="366.4" cy="207.1" r="2.35" fill="url(#dg)"/>
<circle cx="367.0" cy="215.9" r="2.35" fill="url(#dg)"/>
<circle cx="367.5" cy="205.6" r="2.35" fill="url(#dg)"/>
<circle cx="368.0" cy="207.1" r="2.35" fill="url(#dg)"/>
<circle cx="368.6" cy="204.2" r="2.35" fill="url(#dg)"/>
<circle cx="369.1" cy="211.1" r="2.35" fill="url(#dg)"/>
<circle cx="369.6" cy="207.9" r="2.35" fill="url(#dg)"/>
<circle cx="370.2" cy="208.6" r="2.35" fill="url(#dg)"/>
<circle cx="370.7" cy="208.4" r="2.35" fill="url(#dg)"/>
<circle cx="371.2" cy="208.0" r="2.35" fill="url(#dg)"/>
<circle cx="371.8" cy="203.3" r="2.35" fill="url(#dg)"/>
<circle cx="372.3" cy="207.8" r="2.35" fill="url(#dg)"/>
<circle cx="372.8" cy="209.8" r="2.35" fill="url(#dg)"/>
<circle cx="373.4" cy="210.5" r="2.35" fill="url(#dg)"/>
<circle cx="373.9" cy="207.2" r="2.35" fill="url(#dg)"/>
<circle cx="374.4" cy="210.0" r="2.35" fill="url(#dg)"/>
<circle cx="375.0" cy="207.2" r="2.35" fill="url(#dg)"/>
<circle cx="375.5" cy="212.2" r="2.35" fill="url(#dg)"/>
<circle cx="376.1" cy="209.7" r="2.35" fill="url(#dg)"/>
<circle cx="376.6" cy="208.9" r="2.35" fill="url(#dg)"/>
<circle cx="377.1" cy="210.9" r="2.35" fill="url(#dg)"/>
<circle cx="377.7" cy="209.4" r="2.35" fill="url(#dg)"/>
<circle cx="378.2" cy="212.1" r="2.35" fill="url(#dg)"/>
<circle cx="378.7" cy="211.8" r="2.35" fill="url(#dg)"/>
<circle cx="379.3" cy="212.2" r="2.35" fill="url(#dg)"/>
<circle cx="379.8" cy="211.0" r="2.35" fill="url(#dg)"/>
<circle cx="380.3" cy="210.2" r="2.35" fill="url(#dg)"/>
<circle cx="380.9" cy="212.8" r="2.35" fill="url(#dg)"/>
<circle cx="381.4" cy="214.5" r="2.35" fill="url(#dg)"/>
<circle cx="381.9" cy="211.7" r="2.35" fill="url(#dg)"/>
<circle cx="382.5" cy="210.9" r="2.35" fill="url(#dg)"/>
<circle cx="383.0" cy="213.8" r="2.35" fill="url(#dg)"/>
<circle cx="383.5" cy="211.0" r="2.35" fill="url(#dg)"/>
<circle cx="384.1" cy="214.2" r="2.35" fill="url(#dg)"/>
<circle cx="384.6" cy="215.6" r="2.35" fill="url(#dg)"/>
<circle cx="385.1" cy="214.0" r="2.35" fill="url(#dg)"/>
<circle cx="385.7" cy="211.7" r="2.35" fill="url(#dg)"/>
<circle cx="386.2" cy="213.7" r="2.35" fill="url(#dg)"/>
<circle cx="386.7" cy="214.0" r="2.35" fill="url(#dg)"/>
<circle cx="387.3" cy="214.2" r="2.35" fill="url(#dg)"/>
<circle cx="387.8" cy="214.2" r="2.35" fill="url(#dg)"/>
<circle cx="388.3" cy="215.8" r="2.35" fill="url(#dg)"/>
<circle cx="388.9" cy="218.0" r="2.35" fill="url(#dg)"/>
<circle cx="389.4" cy="214.6" r="2.35" fill="url(#dg)"/>
<circle cx="389.9" cy="216.9" r="2.35" fill="url(#dg)"/>
<circle cx="390.5" cy="216.1" r="2.35" fill="url(#dg)"/>
<circle cx="391.0" cy="218.2" r="2.35" fill="url(#dg)"/>
<circle cx="391.5" cy="216.2" r="2.35" fill="url(#dg)"/>
<circle cx="392.1" cy="215.9" r="2.35" fill="url(#dg)"/>
<circle cx="392.6" cy="217.2" r="2.35" fill="url(#dg)"/>
<circle cx="393.1" cy="217.9" r="2.35" fill="url(#dg)"/>
<circle cx="393.7" cy="217.2" r="2.35" fill="url(#dg)"/>
<circle cx="394.2" cy="217.4" r="2.35" fill="url(#dg)"/>
<circle cx="394.7" cy="213.7" r="2.35" fill="url(#dg)"/>
<circle cx="395.3" cy="219.8" r="2.35" fill="url(#dg)"/>
<circle cx="395.8" cy="217.6" r="2.35" fill="url(#dg)"/>
<circle cx="396.3" cy="217.4" r="2.35" fill="url(#dg)"/>
<circle cx="396.9" cy="222.3" r="2.35" fill="url(#dg)"/>
<circle cx="397.4" cy="220.6" r="2.35" fill="url(#dg)"/>
<circle cx="397.9" cy="217.3" r="2.35" fill="url(#dg)"/>
<circle cx="398.5" cy="220.8" r="2.35" fill="url(#dg)"/>
<circle cx="399.0" cy="218.7" r="2.35" fill="url(#dg)"/>
<circle cx="399.5" cy="219.6" r="2.35" fill="url(#dg)"/>
<circle cx="400.1" cy="221.1" r="2.35" fill="url(#dg)"/>
<circle cx="400.6" cy="221.5" r="2.35" fill="url(#dg)"/>
<circle cx="401.1" cy="219.9" r="2.35" fill="url(#dg)"/>
<circle cx="401.7" cy="216.7" r="2.35" fill="url(#dg)"/>
<circle cx="402.2" cy="220.9" r="2.35" fill="url(#dg)"/>
<circle cx="402.7" cy="216.5" r="2.35" fill="url(#dg)"/>
<circle cx="403.3" cy="223.6" r="2.35" fill="url(#dg)"/>
<circle cx="403.8" cy="220.5" r="2.35" fill="url(#dg)"/>
<circle cx="404.3" cy="218.0" r="2.35" fill="url(#dg)"/>
<circle cx="404.9" cy="217.1" r="2.35" fill="url(#dg)"/>
<circle cx="405.4" cy="222.3" r="2.35" fill="url(#dg)"/>
<circle cx="405.9" cy="220.5" r="2.35" fill="url(#dg)"/>
<circle cx="406.5" cy="220.6" r="2.35" fill="url(#dg)"/>
<circle cx="407.0" cy="222.3" r="2.35" fill="url(#dg)"/>
<circle cx="407.5" cy="221.5" r="2.35" fill="url(#dg)"/>
<circle cx="408.1" cy="221.9" r="2.35" fill="url(#dg)"/>
<circle cx="408.6" cy="221.3" r="2.35" fill="url(#dg)"/>
<circle cx="409.1" cy="224.1" r="2.35" fill="url(#dg)"/>
<circle cx="409.7" cy="225.7" r="2.35" fill="url(#dg)"/>
<circle cx="410.2" cy="221.8" r="2.35" fill="url(#dg)"/>
<circle cx="410.7" cy="223.7" r="2.35" fill="url(#dg)"/>
<circle cx="411.3" cy="223.8" r="2.35" fill="url(#dg)"/>
<circle cx="411.8" cy="226.3" r="2.35" fill="url(#dg)"/>
<circle cx="412.3" cy="220.8" r="2.35" fill="url(#dg)"/>
<circle cx="412.9" cy="220.3" r="2.35" fill="url(#dg)"/>
<circle cx="413.4" cy="222.4" r="2.35" fill="url(#dg)"/>
<circle cx="413.9" cy="224.3" r="2.35" fill="url(#dg)"/>
<circle cx="414.5" cy="222.2" r="2.35" fill="url(#dg)"/>
<circle cx="415.0" cy="225.0" r="2.35" fill="url(#dg)"/>
<circle cx="415.5" cy="230.9" r="2.35" fill="url(#dg)"/>
<circle cx="416.1" cy="224.2" r="2.35" fill="url(#dg)"/>
<circle cx="416.6" cy="224.3" r="2.35" fill="url(#dg)"/>
<circle cx="417.1" cy="226.2" r="2.35" fill="url(#dg)"/>
<circle cx="417.7" cy="227.6" r="2.35" fill="url(#dg)"/>
<circle cx="418.2" cy="224.4" r="2.35" fill="url(#dg)"/>
<circle cx="418.8" cy="226.3" r="2.35" fill="url(#dg)"/>
<circle cx="419.3" cy="224.6" r="2.35" fill="url(#dg)"/>
<circle cx="419.8" cy="227.4" r="2.35" fill="url(#dg)"/>
<circle cx="420.4" cy="223.1" r="2.35" fill="url(#dg)"/>
<circle cx="420.9" cy="223.6" r="2.35" fill="url(#dg)"/>
<circle cx="421.4" cy="226.1" r="2.35" fill="url(#dg)"/>
<circle cx="422.0" cy="227.0" r="2.35" fill="url(#dg)"/>
<circle cx="422.5" cy="226.7" r="2.35" fill="url(#dg)"/>
<circle cx="423.0" cy="228.4" r="2.35" fill="url(#dg)"/>
<circle cx="423.6" cy="224.6" r="2.35" fill="url(#dg)"/>
<circle cx="424.1" cy="228.1" r="2.35" fill="url(#dg)"/>
<circle cx="424.6" cy="227.6" r="2.35" fill="url(#dg)"/>
<circle cx="425.2" cy="224.0" r="2.35" fill="url(#dg)"/>
<circle cx="425.7" cy="228.2" r="2.35" fill="url(#dg)"/>
<circle cx="426.2" cy="227.0" r="2.35" fill="url(#dg)"/>
<circle cx="426.8" cy="228.3" r="2.35" fill="url(#dg)"/>
<circle cx="427.3" cy="228.4" r="2.35" fill="url(#dg)"/>
<circle cx="427.8" cy="227.9" r="2.35" fill="url(#dg)"/>
<circle cx="428.4" cy="228.3" r="2.35" fill="url(#dg)"/>
<circle cx="428.9" cy="230.4" r="2.35" fill="url(#dg)"/>
<circle cx="429.4" cy="227.4" r="2.35" fill="url(#dg)"/>
<circle cx="430.0" cy="227.5" r="2.35" fill="url(#dg)"/>
<circle cx="430.5" cy="225.9" r="2.35" fill="url(#dg)"/>
<circle cx="431.0" cy="231.5" r="2.35" fill="url(#dg)"/>
<circle cx="431.6" cy="229.6" r="2.35" fill="url(#dg)"/>
<circle cx="432.1" cy="228.5" r="2.35" fill="url(#dg)"/>
<circle cx="432.6" cy="227.5" r="2.35" fill="url(#dg)"/>
<circle cx="433.2" cy="231.4" r="2.35" fill="url(#dg)"/>
<circle cx="433.7" cy="230.5" r="2.35" fill="url(#dg)"/>
<circle cx="434.2" cy="231.2" r="2.35" fill="url(#dg)"/>
<circle cx="434.8" cy="227.5" r="2.35" fill="url(#dg)"/>
<circle cx="435.3" cy="229.5" r="2.35" fill="url(#dg)"/>
<circle cx="435.8" cy="231.5" r="2.35" fill="url(#dg)"/>
<circle cx="436.4" cy="230.6" r="2.35" fill="url(#dg)"/>
<circle cx="436.9" cy="228.3" r="2.35" fill="url(#dg)"/>
<circle cx="437.4" cy="232.4" r="2.35" fill="url(#dg)"/>
<circle cx="438.0" cy="231.1" r="2.35" fill="url(#dg)"/>
<circle cx="438.5" cy="232.4" r="2.35" fill="url(#dg)"/>
<circle cx="439.0" cy="231.2" r="2.35" fill="url(#dg)"/>
<circle cx="439.6" cy="232.5" r="2.35" fill="url(#dg)"/>
<circle cx="440.1" cy="230.5" r="2.35" fill="url(#dg)"/>
<circle cx="440.6" cy="233.9" r="2.35" fill="url(#dg)"/>
<circle cx="441.2" cy="233.7" r="2.35" fill="url(#dg)"/>
<circle cx="441.7" cy="230.2" r="2.35" fill="url(#dg)"/>
<circle cx="442.2" cy="231.1" r="2.35" fill="url(#dg)"/>
<circle cx="442.8" cy="233.4" r="2.35" fill="url(#dg)"/>
<circle cx="443.3" cy="231.1" r="2.35" fill="url(#dg)"/>
<circle cx="443.8" cy="231.1" r="2.35" fill="url(#dg)"/>
<circle cx="444.4" cy="233.1" r="2.35" fill="url(#dg)"/>
<circle cx="444.9" cy="232.3" r="2.35" fill="url(#dg)"/>
<circle cx="445.4" cy="233.1" r="2.35" fill="url(#dg)"/>
<circle cx="446.0" cy="233.0" r="2.35" fill="url(#dg)"/>
<circle cx="446.5" cy="233.2" r="2.35" fill="url(#dg)"/>
<circle cx="447.0" cy="232.1" r="2.35" fill="url(#dg)"/>
<circle cx="447.6" cy="235.2" r="2.35" fill="url(#dg)"/>
<circle cx="448.1" cy="230.8" r="2.35" fill="url(#dg)"/>
<circle cx="448.6" cy="234.9" r="2.35" fill="url(#dg)"/>
<circle cx="449.2" cy="232.0" r="2.35" fill="url(#dg)"/>
<circle cx="449.7" cy="233.7" r="2.35" fill="url(#dg)"/>
<circle cx="450.2" cy="232.9" r="2.35" fill="url(#dg)"/>
<circle cx="450.8" cy="233.2" r="2.35" fill="url(#dg)"/>
<circle cx="451.3" cy="234.6" r="2.35" fill="url(#dg)"/>
<circle cx="451.8" cy="231.6" r="2.35" fill="url(#dg)"/>
<circle cx="452.4" cy="234.7" r="2.35" fill="url(#dg)"/>
<circle cx="452.9" cy="236.3" r="2.35" fill="url(#dg)"/>
<circle cx="453.4" cy="235.6" r="2.35" fill="url(#dg)"/>
<circle cx="454.0" cy="240.0" r="2.35" fill="url(#dg)"/>
<circle cx="454.5" cy="234.6" r="2.35" fill="url(#dg)"/>
<circle cx="455.0" cy="232.5" r="2.35" fill="url(#dg)"/>
<circle cx="455.6" cy="233.2" r="2.35" fill="url(#dg)"/>
<circle cx="456.1" cy="237.8" r="2.35" fill="url(#dg)"/>
<circle cx="456.6" cy="234.7" r="2.35" fill="url(#dg)"/>
<circle cx="457.2" cy="234.7" r="2.35" fill="url(#dg)"/>
<circle cx="457.7" cy="237.6" r="2.35" fill="url(#dg)"/>
<circle cx="458.2" cy="239.0" r="2.35" fill="url(#dg)"/>
<circle cx="458.8" cy="236.2" r="2.35" fill="url(#dg)"/>
<circle cx="459.3" cy="234.3" r="2.35" fill="url(#dg)"/>
<circle cx="459.8" cy="236.4" r="2.35" fill="url(#dg)"/>
<circle cx="460.4" cy="234.7" r="2.35" fill="url(#dg)"/>
<circle cx="460.9" cy="239.1" r="2.35" fill="url(#dg)"/>
<circle cx="461.4" cy="237.8" r="2.35" fill="url(#dg)"/>
<circle cx="462.0" cy="238.1" r="2.35" fill="url(#dg)"/>
<circle cx="462.5" cy="237.0" r="2.35" fill="url(#dg)"/>
<circle cx="463.1" cy="236.2" r="2.35" fill="url(#dg)"/>
<circle cx="463.6" cy="236.3" r="2.35" fill="url(#dg)"/>
<circle cx="464.1" cy="236.3" r="2.35" fill="url(#dg)"/>
<circle cx="464.7" cy="237.0" r="2.35" fill="url(#dg)"/>
<circle cx="465.2" cy="238.5" r="2.35" fill="url(#dg)"/>
<circle cx="465.7" cy="236.6" r="2.35" fill="url(#dg)"/>
<circle cx="466.3" cy="236.4" r="2.35" fill="url(#dg)"/>
<circle cx="466.8" cy="235.1" r="2.35" fill="url(#dg)"/>
<circle cx="467.3" cy="240.6" r="2.35" fill="url(#dg)"/>
<circle cx="467.9" cy="238.1" r="2.35" fill="url(#dg)"/>
<circle cx="468.4" cy="238.8" r="2.35" fill="url(#dg)"/>
<circle cx="468.9" cy="237.4" r="2.35" fill="url(#dg)"/>
<circle cx="469.5" cy="236.0" r="2.35" fill="url(#dg)"/>
<circle cx="470.0" cy="238.8" r="2.35" fill="url(#dg)"/>
<circle cx="470.5" cy="237.4" r="2.35" fill="url(#dg)"/>
<circle cx="471.1" cy="239.2" r="2.35" fill="url(#dg)"/>
<circle cx="471.6" cy="237.4" r="2.35" fill="url(#dg)"/>
<circle cx="472.1" cy="232.9" r="2.35" fill="url(#dg)"/>
<circle cx="472.7" cy="239.2" r="2.35" fill="url(#dg)"/>
<circle cx="473.2" cy="239.5" r="2.35" fill="url(#dg)"/>
<circle cx="473.7" cy="238.6" r="2.35" fill="url(#dg)"/>
<circle cx="474.3" cy="236.6" r="2.35" fill="url(#dg)"/>
<circle cx="474.8" cy="238.7" r="2.35" fill="url(#dg)"/>
<circle cx="475.3" cy="238.4" r="2.35" fill="url(#dg)"/>
<circle cx="475.9" cy="238.4" r="2.35" fill="url(#dg)"/>
<circle cx="476.4" cy="240.1" r="2.35" fill="url(#dg)"/>
<circle cx="476.9" cy="237.1" r="2.35" fill="url(#dg)"/>
<circle cx="477.5" cy="239.9" r="2.35" fill="url(#dg)"/>
<circle cx="478.0" cy="238.7" r="2.35" fill="url(#dg)"/>
<circle cx="478.5" cy="239.0" r="2.35" fill="url(#dg)"/>
<circle cx="479.1" cy="238.9" r="2.35" fill="url(#dg)"/>
<circle cx="479.6" cy="239.0" r="2.35" fill="url(#dg)"/>
<circle cx="480.1" cy="238.2" r="2.35" fill="url(#dg)"/>
<circle cx="480.7" cy="239.5" r="2.35" fill="url(#dg)"/>
<circle cx="481.2" cy="238.8" r="2.35" fill="url(#dg)"/>
<circle cx="481.7" cy="237.7" r="2.35" fill="url(#dg)"/>
<circle cx="482.3" cy="239.0" r="2.35" fill="url(#dg)"/>
<circle cx="482.8" cy="239.1" r="2.35" fill="url(#dg)"/>
<circle cx="483.3" cy="237.0" r="2.35" fill="url(#dg)"/>
<circle cx="483.9" cy="242.4" r="2.35" fill="url(#dg)"/>
<circle cx="484.4" cy="240.1" r="2.35" fill="url(#dg)"/>
<circle cx="484.9" cy="241.2" r="2.35" fill="url(#dg)"/>
<circle cx="485.5" cy="242.1" r="2.35" fill="url(#dg)"/>
<circle cx="486.0" cy="238.5" r="2.35" fill="url(#dg)"/>
<circle cx="486.5" cy="241.0" r="2.35" fill="url(#dg)"/>
<circle cx="487.1" cy="242.2" r="2.35" fill="url(#dg)"/>
<circle cx="487.6" cy="235.4" r="2.35" fill="url(#dg)"/>
<circle cx="488.1" cy="238.3" r="2.35" fill="url(#dg)"/>
<circle cx="488.7" cy="237.8" r="2.35" fill="url(#dg)"/>
<circle cx="489.2" cy="240.5" r="2.35" fill="url(#dg)"/>
<circle cx="489.7" cy="240.6" r="2.35" fill="url(#dg)"/>
<circle cx="490.3" cy="238.4" r="2.35" fill="url(#dg)"/>
<circle cx="490.8" cy="243.5" r="2.35" fill="url(#dg)"/>
<circle cx="491.3" cy="242.4" r="2.35" fill="url(#dg)"/>
<circle cx="491.9" cy="242.5" r="2.35" fill="url(#dg)"/>
<circle cx="492.4" cy="240.2" r="2.35" fill="url(#dg)"/>
<circle cx="492.9" cy="241.5" r="2.35" fill="url(#dg)"/>
<circle cx="493.5" cy="242.7" r="2.35" fill="url(#dg)"/>
<circle cx="494.0" cy="241.1" r="2.35" fill="url(#dg)"/>
<circle cx="494.5" cy="239.3" r="2.35" fill="url(#dg)"/>
<circle cx="495.1" cy="243.5" r="2.35" fill="url(#dg)"/>
<circle cx="495.6" cy="239.9" r="2.35" fill="url(#dg)"/>
<circle cx="496.1" cy="243.0" r="2.35" fill="url(#dg)"/>
<circle cx="496.7" cy="239.1" r="2.35" fill="url(#dg)"/>
<circle cx="497.2" cy="242.8" r="2.35" fill="url(#dg)"/>
<circle cx="497.7" cy="241.7" r="2.35" fill="url(#dg)"/>
<circle cx="498.3" cy="242.4" r="2.35" fill="url(#dg)"/>
<circle cx="498.8" cy="240.5" r="2.35" fill="url(#dg)"/>
<circle cx="499.3" cy="241.3" r="2.35" fill="url(#dg)"/>
<circle cx="499.9" cy="242.0" r="2.35" fill="url(#dg)"/>
<circle cx="500.4" cy="241.0" r="2.35" fill="url(#dg)"/>
<circle cx="500.9" cy="240.6" r="2.35" fill="url(#dg)"/>
<circle cx="501.5" cy="243.5" r="2.35" fill="url(#dg)"/>
<circle cx="502.0" cy="243.4" r="2.35" fill="url(#dg)"/>
<circle cx="502.5" cy="243.5" r="2.35" fill="url(#dg)"/>
<circle cx="503.1" cy="242.8" r="2.35" fill="url(#dg)"/>
<circle cx="503.6" cy="243.7" r="2.35" fill="url(#dg)"/>
<circle cx="504.1" cy="239.3" r="2.35" fill="url(#dg)"/>
<circle cx="504.7" cy="242.2" r="2.35" fill="url(#dg)"/>
<circle cx="505.2" cy="242.3" r="2.35" fill="url(#dg)"/>
<circle cx="505.8" cy="244.2" r="2.35" fill="url(#dg)"/>
<circle cx="506.3" cy="244.7" r="2.35" fill="url(#dg)"/>
<circle cx="506.8" cy="243.0" r="2.35" fill="url(#dg)"/>
<circle cx="507.4" cy="240.3" r="2.35" fill="url(#dg)"/>
<circle cx="507.9" cy="241.7" r="2.35" fill="url(#dg)"/>
<circle cx="508.4" cy="242.8" r="2.35" fill="url(#dg)"/>
<circle cx="509.0" cy="242.2" r="2.35" fill="url(#dg)"/>
<circle cx="509.5" cy="243.2" r="2.35" fill="url(#dg)"/>
<circle cx="510.0" cy="240.6" r="2.35" fill="url(#dg)"/>
<circle cx="510.6" cy="242.4" r="2.35" fill="url(#dg)"/>
<circle cx="511.1" cy="240.8" r="2.35" fill="url(#dg)"/>
<circle cx="511.6" cy="241.5" r="2.35" fill="url(#dg)"/>
<circle cx="512.2" cy="243.6" r="2.35" fill="url(#dg)"/>
<circle cx="512.7" cy="244.6" r="2.35" fill="url(#dg)"/>
<circle cx="513.2" cy="242.3" r="2.35" fill="url(#dg)"/>
<circle cx="513.8" cy="244.5" r="2.35" fill="url(#dg)"/>
<circle cx="514.3" cy="245.9" r="2.35" fill="url(#dg)"/>
<circle cx="514.8" cy="245.2" r="2.35" fill="url(#dg)"/>
<circle cx="515.4" cy="245.1" r="2.35" fill="url(#dg)"/>
<circle cx="515.9" cy="243.1" r="2.35" fill="url(#dg)"/>
<circle cx="516.4" cy="243.5" r="2.35" fill="url(#dg)"/>
<circle cx="517.0" cy="244.0" r="2.35" fill="url(#dg)"/>
<circle cx="517.5" cy="241.7" r="2.35" fill="url(#dg)"/>
<circle cx="518.0" cy="244.7" r="2.35" fill="url(#dg)"/>
<circle cx="518.6" cy="242.5" r="2.35" fill="url(#dg)"/>
<circle cx="519.1" cy="243.8" r="2.35" fill="url(#dg)"/>
<circle cx="519.6" cy="244.3" r="2.35" fill="url(#dg)"/>
<circle cx="520.2" cy="244.6" r="2.35" fill="url(#dg)"/>
<circle cx="520.7" cy="242.4" r="2.35" fill="url(#dg)"/>
<circle cx="521.2" cy="245.3" r="2.35" fill="url(#dg)"/>
<circle cx="521.8" cy="246.5" r="2.35" fill="url(#dg)"/>
<circle cx="522.3" cy="245.1" r="2.35" fill="url(#dg)"/>
<circle cx="522.8" cy="243.2" r="2.35" fill="url(#dg)"/>
<circle cx="523.4" cy="246.3" r="2.35" fill="url(#dg)"/>
<circle cx="523.9" cy="244.6" r="2.35" fill="url(#dg)"/>
<circle cx="524.4" cy="242.9" r="2.35" fill="url(#dg)"/>
<circle cx="525.0" cy="243.1" r="2.35" fill="url(#dg)"/>
<circle cx="525.5" cy="244.0" r="2.35" fill="url(#dg)"/>
<circle cx="526.0" cy="241.8" r="2.35" fill="url(#dg)"/>
<circle cx="526.6" cy="245.0" r="2.35" fill="url(#dg)"/>
<circle cx="527.1" cy="245.4" r="2.35" fill="url(#dg)"/>
<circle cx="312.0" cy="180.5" r="2.35" fill="url(#do)"/>
<circle cx="312.5" cy="178.0" r="2.35" fill="url(#do)"/>
<circle cx="313.1" cy="177.3" r="2.35" fill="url(#do)"/>
<circle cx="313.6" cy="178.7" r="2.35" fill="url(#do)"/>
<circle cx="314.1" cy="178.5" r="2.35" fill="url(#do)"/>
<circle cx="314.7" cy="177.7" r="2.35" fill="url(#do)"/>
<circle cx="315.2" cy="177.7" r="2.35" fill="url(#do)"/>
<circle cx="315.7" cy="178.6" r="2.35" fill="url(#do)"/>
<circle cx="316.3" cy="178.9" r="2.35" fill="url(#do)"/>
<circle cx="316.8" cy="178.6" r="2.35" fill="url(#do)"/>
<circle cx="317.3" cy="181.0" r="2.35" fill="url(#do)"/>
<circle cx="317.9" cy="178.7" r="2.35" fill="url(#do)"/>
<circle cx="318.4" cy="176.9" r="2.35" fill="url(#do)"/>
<circle cx="318.9" cy="176.7" r="2.35" fill="url(#do)"/>
<circle cx="319.5" cy="180.6" r="2.35" fill="url(#do)"/>
<circle cx="320.0" cy="178.3" r="2.35" fill="url(#do)"/>
<circle cx="320.5" cy="178.4" r="2.35" fill="url(#do)"/>
<circle cx="321.1" cy="178.9" r="2.35" fill="url(#do)"/>
<circle cx="321.6" cy="177.1" r="2.35" fill="url(#do)"/>
<circle cx="322.1" cy="178.9" r="2.35" fill="url(#do)"/>
<circle cx="322.7" cy="178.0" r="2.35" fill="url(#do)"/>
<circle cx="323.2" cy="178.1" r="2.35" fill="url(#do)"/>
<circle cx="323.7" cy="179.3" r="2.35" fill="url(#do)"/>
<circle cx="324.3" cy="178.0" r="2.35" fill="url(#do)"/>
<circle cx="324.8" cy="178.2" r="2.35" fill="url(#do)"/>
<circle cx="325.3" cy="177.4" r="2.35" fill="url(#do)"/>
<circle cx="325.9" cy="178.5" r="2.35" fill="url(#do)"/>
<circle cx="326.4" cy="177.2" r="2.35" fill="url(#do)"/>
<circle cx="326.9" cy="178.0" r="2.35" fill="url(#do)"/>
<circle cx="327.5" cy="178.2" r="2.35" fill="url(#do)"/>
<circle cx="328.0" cy="178.2" r="2.35" fill="url(#do)"/>
<circle cx="328.5" cy="180.4" r="2.35" fill="url(#do)"/>
<circle cx="329.1" cy="176.5" r="2.35" fill="url(#do)"/>
<circle cx="329.6" cy="176.6" r="2.35" fill="url(#do)"/>
<circle cx="330.1" cy="179.0" r="2.35" fill="url(#do)"/>
<circle cx="330.7" cy="180.8" r="2.35" fill="url(#do)"/>
<circle cx="331.2" cy="178.8" r="2.35" fill="url(#do)"/>
<circle cx="331.7" cy="177.6" r="2.35" fill="url(#do)"/>
<circle cx="332.3" cy="181.9" r="2.35" fill="url(#do)"/>
<circle cx="332.8" cy="176.2" r="2.35" fill="url(#do)"/>
<circle cx="333.4" cy="179.7" r="2.35" fill="url(#do)"/>
<circle cx="333.9" cy="179.4" r="2.35" fill="url(#do)"/>
<circle cx="334.4" cy="179.7" r="2.35" fill="url(#do)"/>
<circle cx="335.0" cy="178.6" r="2.35" fill="url(#do)"/>
<circle cx="335.5" cy="178.5" r="2.35" fill="url(#do)"/>
<circle cx="336.0" cy="178.9" r="2.35" fill="url(#do)"/>
<circle cx="336.6" cy="178.6" r="2.35" fill="url(#do)"/>
<circle cx="337.1" cy="180.0" r="2.35" fill="url(#do)"/>
<circle cx="337.6" cy="178.4" r="2.35" fill="url(#do)"/>
<circle cx="338.2" cy="179.6" r="2.35" fill="url(#do)"/>
<circle cx="338.7" cy="179.5" r="2.35" fill="url(#do)"/>
<circle cx="339.2" cy="178.0" r="2.35" fill="url(#do)"/>
<circle cx="339.8" cy="179.1" r="2.35" fill="url(#do)"/>
<circle cx="340.3" cy="178.5" r="2.35" fill="url(#do)"/>
<circle cx="340.8" cy="177.3" r="2.35" fill="url(#do)"/>
<circle cx="341.4" cy="180.4" r="2.35" fill="url(#do)"/>
<circle cx="341.9" cy="179.2" r="2.35" fill="url(#do)"/>
<circle cx="342.4" cy="181.5" r="2.35" fill="url(#do)"/>
<circle cx="343.0" cy="177.5" r="2.35" fill="url(#do)"/>
<circle cx="343.5" cy="181.5" r="2.35" fill="url(#do)"/>
<circle cx="344.0" cy="182.0" r="2.35" fill="url(#do)"/>
<circle cx="344.6" cy="180.8" r="2.35" fill="url(#do)"/>
<circle cx="345.1" cy="178.3" r="2.35" fill="url(#do)"/>
<circle cx="345.6" cy="179.7" r="2.35" fill="url(#do)"/>
<circle cx="346.2" cy="182.4" r="2.35" fill="url(#do)"/>
<circle cx="346.7" cy="179.8" r="2.35" fill="url(#do)"/>
<circle cx="347.2" cy="181.2" r="2.35" fill="url(#do)"/>
<circle cx="347.8" cy="181.4" r="2.35" fill="url(#do)"/>
<circle cx="348.3" cy="177.9" r="2.35" fill="url(#do)"/>
<circle cx="348.8" cy="179.9" r="2.35" fill="url(#do)"/>
<circle cx="349.4" cy="179.8" r="2.35" fill="url(#do)"/>
<circle cx="349.9" cy="179.9" r="2.35" fill="url(#do)"/>
<circle cx="350.4" cy="181.6" r="2.35" fill="url(#do)"/>
<circle cx="351.0" cy="180.1" r="2.35" fill="url(#do)"/>
<circle cx="351.5" cy="181.4" r="2.35" fill="url(#do)"/>
<circle cx="352.0" cy="184.8" r="2.35" fill="url(#do)"/>
<circle cx="352.6" cy="181.5" r="2.35" fill="url(#do)"/>
<circle cx="353.1" cy="179.5" r="2.35" fill="url(#do)"/>
<circle cx="353.6" cy="182.1" r="2.35" fill="url(#do)"/>
<circle cx="354.2" cy="180.1" r="2.35" fill="url(#do)"/>
<circle cx="354.7" cy="182.5" r="2.35" fill="url(#do)"/>
<circle cx="355.2" cy="181.5" r="2.35" fill="url(#do)"/>
<circle cx="355.8" cy="181.6" r="2.35" fill="url(#do)"/>
<circle cx="356.3" cy="181.4" r="2.35" fill="url(#do)"/>
<circle cx="356.8" cy="181.0" r="2.35" fill="url(#do)"/>
<circle cx="357.4" cy="183.4" r="2.35" fill="url(#do)"/>
<circle cx="357.9" cy="182.0" r="2.35" fill="url(#do)"/>
<circle cx="358.4" cy="179.7" r="2.35" fill="url(#do)"/>
<circle cx="359.0" cy="181.3" r="2.35" fill="url(#do)"/>
<circle cx="359.5" cy="183.0" r="2.35" fill="url(#do)"/>
<circle cx="360.0" cy="182.5" r="2.35" fill="url(#do)"/>
<circle cx="360.6" cy="182.5" r="2.35" fill="url(#do)"/>
<circle cx="361.1" cy="182.3" r="2.35" fill="url(#do)"/>
<circle cx="361.6" cy="182.8" r="2.35" fill="url(#do)"/>
<circle cx="362.2" cy="182.7" r="2.35" fill="url(#do)"/>
<circle cx="362.7" cy="183.1" r="2.35" fill="url(#do)"/>
<circle cx="363.2" cy="183.9" r="2.35" fill="url(#do)"/>
<circle cx="363.8" cy="182.1" r="2.35" fill="url(#do)"/>
<circle cx="364.3" cy="182.3" r="2.35" fill="url(#do)"/>
<circle cx="364.8" cy="185.8" r="2.35" fill="url(#do)"/>
<circle cx="365.4" cy="185.6" r="2.35" fill="url(#do)"/>
<circle cx="365.9" cy="183.8" r="2.35" fill="url(#do)"/>
<circle cx="366.4" cy="186.2" r="2.35" fill="url(#do)"/>
<circle cx="367.0" cy="185.1" r="2.35" fill="url(#do)"/>
<circle cx="367.5" cy="185.4" r="2.35" fill="url(#do)"/>
<circle cx="368.0" cy="184.9" r="2.35" fill="url(#do)"/>
<circle cx="368.6" cy="186.2" r="2.35" fill="url(#do)"/>
<circle cx="369.1" cy="181.8" r="2.35" fill="url(#do)"/>
<circle cx="369.6" cy="184.6" r="2.35" fill="url(#do)"/>
<circle cx="370.2" cy="184.8" r="2.35" fill="url(#do)"/>
<circle cx="370.7" cy="188.3" r="2.35" fill="url(#do)"/>
<circle cx="371.2" cy="188.6" r="2.35" fill="url(#do)"/>
<circle cx="371.8" cy="186.4" r="2.35" fill="url(#do)"/>
<circle cx="372.3" cy="185.6" r="2.35" fill="url(#do)"/>
<circle cx="372.8" cy="187.0" r="2.35" fill="url(#do)"/>
<circle cx="373.4" cy="185.6" r="2.35" fill="url(#do)"/>
<circle cx="373.9" cy="191.0" r="2.35" fill="url(#do)"/>
<circle cx="374.4" cy="186.3" r="2.35" fill="url(#do)"/>
<circle cx="375.0" cy="185.9" r="2.35" fill="url(#do)"/>
<circle cx="375.5" cy="190.5" r="2.35" fill="url(#do)"/>
<circle cx="376.1" cy="187.8" r="2.35" fill="url(#do)"/>
<circle cx="376.6" cy="188.3" r="2.35" fill="url(#do)"/>
<circle cx="377.1" cy="189.4" r="2.35" fill="url(#do)"/>
<circle cx="377.7" cy="192.0" r="2.35" fill="url(#do)"/>
<circle cx="378.2" cy="191.1" r="2.35" fill="url(#do)"/>
<circle cx="378.7" cy="188.9" r="2.35" fill="url(#do)"/>
<circle cx="379.3" cy="187.9" r="2.35" fill="url(#do)"/>
<circle cx="379.8" cy="189.7" r="2.35" fill="url(#do)"/>
<circle cx="380.3" cy="187.2" r="2.35" fill="url(#do)"/>
<circle cx="380.9" cy="191.5" r="2.35" fill="url(#do)"/>
<circle cx="381.4" cy="187.7" r="2.35" fill="url(#do)"/>
<circle cx="381.9" cy="194.0" r="2.35" fill="url(#do)"/>
<circle cx="382.5" cy="190.8" r="2.35" fill="url(#do)"/>
<circle cx="383.0" cy="190.3" r="2.35" fill="url(#do)"/>
<circle cx="383.5" cy="190.1" r="2.35" fill="url(#do)"/>
<circle cx="384.1" cy="189.9" r="2.35" fill="url(#do)"/>
<circle cx="384.6" cy="193.3" r="2.35" fill="url(#do)"/>
<circle cx="385.1" cy="195.5" r="2.35" fill="url(#do)"/>
<circle cx="385.7" cy="192.6" r="2.35" fill="url(#do)"/>
<circle cx="386.2" cy="194.7" r="2.35" fill="url(#do)"/>
<circle cx="386.7" cy="192.5" r="2.35" fill="url(#do)"/>
<circle cx="387.3" cy="194.7" r="2.35" fill="url(#do)"/>
<circle cx="387.8" cy="193.5" r="2.35" fill="url(#do)"/>
<circle cx="388.3" cy="193.5" r="2.35" fill="url(#do)"/>
<circle cx="388.9" cy="193.3" r="2.35" fill="url(#do)"/>
<circle cx="389.4" cy="194.9" r="2.35" fill="url(#do)"/>
<circle cx="389.9" cy="191.8" r="2.35" fill="url(#do)"/>
<circle cx="390.5" cy="195.3" r="2.35" fill="url(#do)"/>
<circle cx="391.0" cy="194.7" r="2.35" fill="url(#do)"/>
<circle cx="391.5" cy="193.8" r="2.35" fill="url(#do)"/>
<circle cx="392.1" cy="194.8" r="2.35" fill="url(#do)"/>
<circle cx="392.6" cy="192.6" r="2.35" fill="url(#do)"/>
<circle cx="393.1" cy="195.5" r="2.35" fill="url(#do)"/>
<circle cx="393.7" cy="196.2" r="2.35" fill="url(#do)"/>
<circle cx="394.2" cy="193.8" r="2.35" fill="url(#do)"/>
<circle cx="394.7" cy="195.0" r="2.35" fill="url(#do)"/>
<circle cx="395.3" cy="197.6" r="2.35" fill="url(#do)"/>
<circle cx="395.8" cy="197.1" r="2.35" fill="url(#do)"/>
<circle cx="396.3" cy="196.1" r="2.35" fill="url(#do)"/>
<circle cx="396.9" cy="194.4" r="2.35" fill="url(#do)"/>
<circle cx="397.4" cy="195.5" r="2.35" fill="url(#do)"/>
<circle cx="397.9" cy="197.1" r="2.35" fill="url(#do)"/>
<circle cx="398.5" cy="201.6" r="2.35" fill="url(#do)"/>
<circle cx="399.0" cy="196.5" r="2.35" fill="url(#do)"/>
<circle cx="399.5" cy="200.0" r="2.35" fill="url(#do)"/>
<circle cx="400.1" cy="200.8" r="2.35" fill="url(#do)"/>
<circle cx="400.6" cy="199.5" r="2.35" fill="url(#do)"/>
<circle cx="401.1" cy="198.2" r="2.35" fill="url(#do)"/>
<circle cx="401.7" cy="198.6" r="2.35" fill="url(#do)"/>
<circle cx="402.2" cy="194.4" r="2.35" fill="url(#do)"/>
<circle cx="402.7" cy="199.4" r="2.35" fill="url(#do)"/>
<circle cx="403.3" cy="200.6" r="2.35" fill="url(#do)"/>
<circle cx="403.8" cy="197.3" r="2.35" fill="url(#do)"/>
<circle cx="404.3" cy="199.3" r="2.35" fill="url(#do)"/>
<circle cx="404.9" cy="200.6" r="2.35" fill="url(#do)"/>
<circle cx="405.4" cy="201.6" r="2.35" fill="url(#do)"/>
<circle cx="405.9" cy="200.2" r="2.35" fill="url(#do)"/>
<circle cx="406.5" cy="197.7" r="2.35" fill="url(#do)"/>
<circle cx="407.0" cy="199.4" r="2.35" fill="url(#do)"/>
<circle cx="407.5" cy="201.3" r="2.35" fill="url(#do)"/>
<circle cx="408.1" cy="199.3" r="2.35" fill="url(#do)"/>
<circle cx="408.6" cy="200.7" r="2.35" fill="url(#do)"/>
<circle cx="409.1" cy="203.6" r="2.35" fill="url(#do)"/>
<circle cx="409.7" cy="200.1" r="2.35" fill="url(#do)"/>
<circle cx="410.2" cy="200.6" r="2.35" fill="url(#do)"/>
<circle cx="410.7" cy="198.8" r="2.35" fill="url(#do)"/>
<circle cx="411.3" cy="202.1" r="2.35" fill="url(#do)"/>
<circle cx="411.8" cy="204.3" r="2.35" fill="url(#do)"/>
<circle cx="412.3" cy="201.0" r="2.35" fill="url(#do)"/>
<circle cx="412.9" cy="198.0" r="2.35" fill="url(#do)"/>
<circle cx="413.4" cy="204.0" r="2.35" fill="url(#do)"/>
<circle cx="413.9" cy="199.8" r="2.35" fill="url(#do)"/>
<circle cx="414.5" cy="202.9" r="2.35" fill="url(#do)"/>
<circle cx="415.0" cy="202.0" r="2.35" fill="url(#do)"/>
<circle cx="415.5" cy="203.3" r="2.35" fill="url(#do)"/>
<circle cx="416.1" cy="205.1" r="2.35" fill="url(#do)"/>
<circle cx="416.6" cy="201.7" r="2.35" fill="url(#do)"/>
<circle cx="417.1" cy="204.5" r="2.35" fill="url(#do)"/>
<circle cx="417.7" cy="203.6" r="2.35" fill="url(#do)"/>
<circle cx="418.2" cy="203.1" r="2.35" fill="url(#do)"/>
<circle cx="418.8" cy="206.7" r="2.35" fill="url(#do)"/>
<circle cx="419.3" cy="203.2" r="2.35" fill="url(#do)"/>
<circle cx="419.8" cy="203.8" r="2.35" fill="url(#do)"/>
<circle cx="420.4" cy="205.2" r="2.35" fill="url(#do)"/>
<circle cx="420.9" cy="206.1" r="2.35" fill="url(#do)"/>
<circle cx="421.4" cy="204.5" r="2.35" fill="url(#do)"/>
<circle cx="422.0" cy="204.4" r="2.35" fill="url(#do)"/>
<circle cx="422.5" cy="205.7" r="2.35" fill="url(#do)"/>
<circle cx="423.0" cy="205.2" r="2.35" fill="url(#do)"/>
<circle cx="423.6" cy="205.7" r="2.35" fill="url(#do)"/>
<circle cx="424.1" cy="209.1" r="2.35" fill="url(#do)"/>
<circle cx="424.6" cy="203.9" r="2.35" fill="url(#do)"/>
<circle cx="425.2" cy="204.2" r="2.35" fill="url(#do)"/>
<circle cx="425.7" cy="208.6" r="2.35" fill="url(#do)"/>
<circle cx="426.2" cy="202.6" r="2.35" fill="url(#do)"/>
<circle cx="426.8" cy="207.1" r="2.35" fill="url(#do)"/>
<circle cx="427.3" cy="207.8" r="2.35" fill="url(#do)"/>
<circle cx="427.8" cy="206.4" r="2.35" fill="url(#do)"/>
<circle cx="428.4" cy="204.8" r="2.35" fill="url(#do)"/>
<circle cx="428.9" cy="209.0" r="2.35" fill="url(#do)"/>
<circle cx="429.4" cy="205.4" r="2.35" fill="url(#do)"/>
<circle cx="430.0" cy="207.6" r="2.35" fill="url(#do)"/>
<circle cx="430.5" cy="209.6" r="2.35" fill="url(#do)"/>
<circle cx="431.0" cy="207.3" r="2.35" fill="url(#do)"/>
<circle cx="431.6" cy="209.3" r="2.35" fill="url(#do)"/>
<circle cx="432.1" cy="208.0" r="2.35" fill="url(#do)"/>
<circle cx="432.6" cy="207.7" r="2.35" fill="url(#do)"/>
<circle cx="433.2" cy="209.3" r="2.35" fill="url(#do)"/>
<circle cx="433.7" cy="212.2" r="2.35" fill="url(#do)"/>
<circle cx="434.2" cy="206.1" r="2.35" fill="url(#do)"/>
<circle cx="434.8" cy="206.6" r="2.35" fill="url(#do)"/>
<circle cx="435.3" cy="206.8" r="2.35" fill="url(#do)"/>
<circle cx="435.8" cy="209.9" r="2.35" fill="url(#do)"/>
<circle cx="436.4" cy="208.9" r="2.35" fill="url(#do)"/>
<circle cx="436.9" cy="209.2" r="2.35" fill="url(#do)"/>
<circle cx="437.4" cy="213.9" r="2.35" fill="url(#do)"/>
<circle cx="438.0" cy="211.6" r="2.35" fill="url(#do)"/>
<circle cx="438.5" cy="210.9" r="2.35" fill="url(#do)"/>
<circle cx="439.0" cy="213.0" r="2.35" fill="url(#do)"/>
<circle cx="439.6" cy="211.1" r="2.35" fill="url(#do)"/>
<circle cx="440.1" cy="210.4" r="2.35" fill="url(#do)"/>
<circle cx="440.6" cy="212.1" r="2.35" fill="url(#do)"/>
<circle cx="441.2" cy="214.2" r="2.35" fill="url(#do)"/>
<circle cx="441.7" cy="208.9" r="2.35" fill="url(#do)"/>
<circle cx="442.2" cy="210.0" r="2.35" fill="url(#do)"/>
<circle cx="442.8" cy="211.6" r="2.35" fill="url(#do)"/>
<circle cx="443.3" cy="210.9" r="2.35" fill="url(#do)"/>
<circle cx="443.8" cy="215.0" r="2.35" fill="url(#do)"/>
<circle cx="444.4" cy="211.8" r="2.35" fill="url(#do)"/>
<circle cx="444.9" cy="212.2" r="2.35" fill="url(#do)"/>
<circle cx="445.4" cy="208.7" r="2.35" fill="url(#do)"/>
<circle cx="446.0" cy="211.0" r="2.35" fill="url(#do)"/>
<circle cx="446.5" cy="212.7" r="2.35" fill="url(#do)"/>
<circle cx="447.0" cy="209.7" r="2.35" fill="url(#do)"/>
<circle cx="447.6" cy="211.5" r="2.35" fill="url(#do)"/>
<circle cx="448.1" cy="213.8" r="2.35" fill="url(#do)"/>
<circle cx="448.6" cy="213.6" r="2.35" fill="url(#do)"/>
<circle cx="449.2" cy="208.7" r="2.35" fill="url(#do)"/>
<circle cx="449.7" cy="214.2" r="2.35" fill="url(#do)"/>
<circle cx="450.2" cy="214.2" r="2.35" fill="url(#do)"/>
<circle cx="450.8" cy="213.7" r="2.35" fill="url(#do)"/>
<circle cx="451.3" cy="215.0" r="2.35" fill="url(#do)"/>
<circle cx="451.8" cy="213.7" r="2.35" fill="url(#do)"/>
<circle cx="452.4" cy="213.6" r="2.35" fill="url(#do)"/>
<circle cx="452.9" cy="213.7" r="2.35" fill="url(#do)"/>
<circle cx="453.4" cy="217.9" r="2.35" fill="url(#do)"/>
<circle cx="454.0" cy="216.9" r="2.35" fill="url(#do)"/>
<circle cx="454.5" cy="217.4" r="2.35" fill="url(#do)"/>
<circle cx="455.0" cy="213.1" r="2.35" fill="url(#do)"/>
<circle cx="455.6" cy="214.3" r="2.35" fill="url(#do)"/>
<circle cx="456.1" cy="218.9" r="2.35" fill="url(#do)"/>
<circle cx="456.6" cy="214.0" r="2.35" fill="url(#do)"/>
<circle cx="457.2" cy="213.1" r="2.35" fill="url(#do)"/>
<circle cx="457.7" cy="215.4" r="2.35" fill="url(#do)"/>
<circle cx="458.2" cy="215.0" r="2.35" fill="url(#do)"/>
<circle cx="458.8" cy="213.3" r="2.35" fill="url(#do)"/>
<circle cx="459.3" cy="219.2" r="2.35" fill="url(#do)"/>
<circle cx="459.8" cy="215.2" r="2.35" fill="url(#do)"/>
<circle cx="460.4" cy="214.2" r="2.35" fill="url(#do)"/>
<circle cx="460.9" cy="212.8" r="2.35" fill="url(#do)"/>
<circle cx="461.4" cy="216.0" r="2.35" fill="url(#do)"/>
<circle cx="462.0" cy="219.0" r="2.35" fill="url(#do)"/>
<circle cx="462.5" cy="215.6" r="2.35" fill="url(#do)"/>
<circle cx="463.1" cy="218.4" r="2.35" fill="url(#do)"/>
<circle cx="463.6" cy="216.9" r="2.35" fill="url(#do)"/>
<circle cx="464.1" cy="214.9" r="2.35" fill="url(#do)"/>
<circle cx="464.7" cy="218.3" r="2.35" fill="url(#do)"/>
<circle cx="465.2" cy="214.2" r="2.35" fill="url(#do)"/>
<circle cx="465.7" cy="215.6" r="2.35" fill="url(#do)"/>
<circle cx="466.3" cy="216.1" r="2.35" fill="url(#do)"/>
<circle cx="466.8" cy="216.7" r="2.35" fill="url(#do)"/>
<circle cx="467.3" cy="218.1" r="2.35" fill="url(#do)"/>
<circle cx="467.9" cy="216.6" r="2.35" fill="url(#do)"/>
<circle cx="468.4" cy="216.9" r="2.35" fill="url(#do)"/>
<circle cx="468.9" cy="218.6" r="2.35" fill="url(#do)"/>
<circle cx="469.5" cy="217.8" r="2.35" fill="url(#do)"/>
<circle cx="470.0" cy="214.0" r="2.35" fill="url(#do)"/>
<circle cx="470.5" cy="217.9" r="2.35" fill="url(#do)"/>
<circle cx="471.1" cy="216.3" r="2.35" fill="url(#do)"/>
<circle cx="471.6" cy="217.8" r="2.35" fill="url(#do)"/>
<circle cx="472.1" cy="217.1" r="2.35" fill="url(#do)"/>
<circle cx="472.7" cy="217.5" r="2.35" fill="url(#do)"/>
<circle cx="473.2" cy="220.6" r="2.35" fill="url(#do)"/>
<circle cx="473.7" cy="218.1" r="2.35" fill="url(#do)"/>
<circle cx="474.3" cy="219.3" r="2.35" fill="url(#do)"/>
<circle cx="474.8" cy="217.9" r="2.35" fill="url(#do)"/>
<circle cx="475.3" cy="220.4" r="2.35" fill="url(#do)"/>
<circle cx="475.9" cy="217.4" r="2.35" fill="url(#do)"/>
<circle cx="476.4" cy="219.8" r="2.35" fill="url(#do)"/>
<circle cx="476.9" cy="221.1" r="2.35" fill="url(#do)"/>
<circle cx="477.5" cy="217.5" r="2.35" fill="url(#do)"/>
<circle cx="478.0" cy="220.9" r="2.35" fill="url(#do)"/>
<circle cx="478.5" cy="216.8" r="2.35" fill="url(#do)"/>
<circle cx="479.1" cy="217.0" r="2.35" fill="url(#do)"/>
<circle cx="479.6" cy="219.8" r="2.35" fill="url(#do)"/>
<circle cx="480.1" cy="217.4" r="2.35" fill="url(#do)"/>
<circle cx="480.7" cy="221.3" r="2.35" fill="url(#do)"/>
<circle cx="481.2" cy="217.7" r="2.35" fill="url(#do)"/>
<circle cx="481.7" cy="219.3" r="2.35" fill="url(#do)"/>
<circle cx="482.3" cy="218.7" r="2.35" fill="url(#do)"/>
<circle cx="482.8" cy="219.9" r="2.35" fill="url(#do)"/>
<circle cx="483.3" cy="219.1" r="2.35" fill="url(#do)"/>
<circle cx="483.9" cy="218.6" r="2.35" fill="url(#do)"/>
<circle cx="484.4" cy="221.6" r="2.35" fill="url(#do)"/>
<circle cx="484.9" cy="221.0" r="2.35" fill="url(#do)"/>
<circle cx="485.5" cy="219.1" r="2.35" fill="url(#do)"/>
<circle cx="486.0" cy="218.7" r="2.35" fill="url(#do)"/>
<circle cx="486.5" cy="220.7" r="2.35" fill="url(#do)"/>
<circle cx="487.1" cy="220.4" r="2.35" fill="url(#do)"/>
<circle cx="487.6" cy="218.1" r="2.35" fill="url(#do)"/>
<circle cx="488.1" cy="223.6" r="2.35" fill="url(#do)"/>
<circle cx="488.7" cy="224.8" r="2.35" fill="url(#do)"/>
<circle cx="489.2" cy="219.7" r="2.35" fill="url(#do)"/>
<circle cx="489.7" cy="220.2" r="2.35" fill="url(#do)"/>
<circle cx="490.3" cy="220.1" r="2.35" fill="url(#do)"/>
<circle cx="490.8" cy="223.9" r="2.35" fill="url(#do)"/>
<circle cx="491.3" cy="221.1" r="2.35" fill="url(#do)"/>
<circle cx="491.9" cy="221.7" r="2.35" fill="url(#do)"/>
<circle cx="492.4" cy="221.8" r="2.35" fill="url(#do)"/>
<circle cx="492.9" cy="221.0" r="2.35" fill="url(#do)"/>
<circle cx="493.5" cy="220.3" r="2.35" fill="url(#do)"/>
<circle cx="494.0" cy="218.2" r="2.35" fill="url(#do)"/>
<circle cx="494.5" cy="224.8" r="2.35" fill="url(#do)"/>
<circle cx="495.1" cy="223.7" r="2.35" fill="url(#do)"/>
<circle cx="495.6" cy="224.1" r="2.35" fill="url(#do)"/>
<circle cx="496.1" cy="220.1" r="2.35" fill="url(#do)"/>
<circle cx="496.7" cy="223.3" r="2.35" fill="url(#do)"/>
<circle cx="497.2" cy="222.0" r="2.35" fill="url(#do)"/>
<circle cx="497.7" cy="221.8" r="2.35" fill="url(#do)"/>
<circle cx="498.3" cy="225.8" r="2.35" fill="url(#do)"/>
<circle cx="498.8" cy="221.0" r="2.35" fill="url(#do)"/>
<circle cx="499.3" cy="221.5" r="2.35" fill="url(#do)"/>
<circle cx="499.9" cy="223.4" r="2.35" fill="url(#do)"/>
<circle cx="500.4" cy="223.5" r="2.35" fill="url(#do)"/>
<circle cx="500.9" cy="223.4" r="2.35" fill="url(#do)"/>
<circle cx="501.5" cy="222.4" r="2.35" fill="url(#do)"/>
<circle cx="502.0" cy="222.8" r="2.35" fill="url(#do)"/>
<circle cx="502.5" cy="222.2" r="2.35" fill="url(#do)"/>
<circle cx="503.1" cy="224.9" r="2.35" fill="url(#do)"/>
<circle cx="503.6" cy="224.5" r="2.35" fill="url(#do)"/>
<circle cx="504.1" cy="223.4" r="2.35" fill="url(#do)"/>
<circle cx="504.7" cy="223.3" r="2.35" fill="url(#do)"/>
<circle cx="505.2" cy="224.6" r="2.35" fill="url(#do)"/>
<circle cx="505.8" cy="221.9" r="2.35" fill="url(#do)"/>
<circle cx="506.3" cy="223.3" r="2.35" fill="url(#do)"/>
<circle cx="506.8" cy="222.8" r="2.35" fill="url(#do)"/>
<circle cx="507.4" cy="223.3" r="2.35" fill="url(#do)"/>
<circle cx="507.9" cy="221.8" r="2.35" fill="url(#do)"/>
<circle cx="508.4" cy="224.6" r="2.35" fill="url(#do)"/>
<circle cx="509.0" cy="224.4" r="2.35" fill="url(#do)"/>
<circle cx="509.5" cy="223.3" r="2.35" fill="url(#do)"/>
<circle cx="510.0" cy="223.7" r="2.35" fill="url(#do)"/>
<circle cx="510.6" cy="226.3" r="2.35" fill="url(#do)"/>
<circle cx="511.1" cy="225.2" r="2.35" fill="url(#do)"/>
<circle cx="511.6" cy="224.1" r="2.35" fill="url(#do)"/>
<circle cx="512.2" cy="224.4" r="2.35" fill="url(#do)"/>
<circle cx="512.7" cy="225.3" r="2.35" fill="url(#do)"/>
<circle cx="513.2" cy="226.2" r="2.35" fill="url(#do)"/>
<circle cx="513.8" cy="225.3" r="2.35" fill="url(#do)"/>
<circle cx="514.3" cy="224.2" r="2.35" fill="url(#do)"/>
<circle cx="514.8" cy="224.3" r="2.35" fill="url(#do)"/>
<circle cx="515.4" cy="225.8" r="2.35" fill="url(#do)"/>
<circle cx="515.9" cy="226.6" r="2.35" fill="url(#do)"/>
<circle cx="516.4" cy="226.1" r="2.35" fill="url(#do)"/>
<circle cx="517.0" cy="227.9" r="2.35" fill="url(#do)"/>
<circle cx="517.5" cy="224.7" r="2.35" fill="url(#do)"/>
<circle cx="518.0" cy="224.8" r="2.35" fill="url(#do)"/>
<circle cx="518.6" cy="226.1" r="2.35" fill="url(#do)"/>
<circle cx="519.1" cy="225.6" r="2.35" fill="url(#do)"/>
<circle cx="519.6" cy="224.5" r="2.35" fill="url(#do)"/>
<circle cx="520.2" cy="226.4" r="2.35" fill="url(#do)"/>
<circle cx="520.7" cy="226.4" r="2.35" fill="url(#do)"/>
<circle cx="521.2" cy="225.6" r="2.35" fill="url(#do)"/>
<circle cx="521.8" cy="227.4" r="2.35" fill="url(#do)"/>
<circle cx="522.3" cy="226.3" r="2.35" fill="url(#do)"/>
<circle cx="522.8" cy="228.0" r="2.35" fill="url(#do)"/>
<circle cx="523.4" cy="226.1" r="2.35" fill="url(#do)"/>
<circle cx="523.9" cy="228.0" r="2.35" fill="url(#do)"/>
<circle cx="524.4" cy="227.2" r="2.35" fill="url(#do)"/>
<circle cx="525.0" cy="227.2" r="2.35" fill="url(#do)"/>
<circle cx="525.5" cy="229.0" r="2.35" fill="url(#do)"/>
<circle cx="526.0" cy="228.1" r="2.35" fill="url(#do)"/>
<circle cx="526.6" cy="227.3" r="2.35" fill="url(#do)"/>
<circle cx="527.1" cy="228.0" r="2.35" fill="url(#do)"/>
</g>
<line x1="312.0" y1="293.0" x2="312.0" y2="295.2" stroke="#1e1e1e" stroke-width="1"/>
<line x1="338.6875" y1="293.0" x2="338.6875" y2="291.4" stroke="#1e1e1e" stroke-width="0.9"/>
<text x="312.0" y="306.3" font-size="10.6" text-anchor="middle" fill="#1a1a1a">0</text>
<line x1="365.375" y1="293.0" x2="365.375" y2="295.2" stroke="#1e1e1e" stroke-width="1"/>
<line x1="392.0625" y1="293.0" x2="392.0625" y2="291.4" stroke="#1e1e1e" stroke-width="0.9"/>
<text x="365.375" y="306.3" font-size="10.6" text-anchor="middle" fill="#1a1a1a">50</text>
<line x1="418.75" y1="293.0" x2="418.75" y2="295.2" stroke="#1e1e1e" stroke-width="1"/>
<line x1="445.4375" y1="293.0" x2="445.4375" y2="291.4" stroke="#1e1e1e" stroke-width="0.9"/>
<text x="418.75" y="306.3" font-size="10.6" text-anchor="middle" fill="#1a1a1a">100</text>
<line x1="472.125" y1="293.0" x2="472.125" y2="295.2" stroke="#1e1e1e" stroke-width="1"/>
<line x1="498.8125" y1="293.0" x2="498.8125" y2="291.4" stroke="#1e1e1e" stroke-width="0.9"/>
<text x="472.125" y="306.3" font-size="10.6" text-anchor="middle" fill="#1a1a1a">150</text>
<line x1="525.5" y1="293.0" x2="525.5" y2="295.2" stroke="#1e1e1e" stroke-width="1"/>
<text x="525.5" y="306.3" font-size="10.6" text-anchor="middle" fill="#1a1a1a">200</text>
<line x1="312.0" y1="293.0" x2="309.8" y2="293.0" stroke="#1e1e1e" stroke-width="1"/>
<line x1="312.0" y1="281.38" x2="313.6" y2="281.38" stroke="#1e1e1e" stroke-width="0.9"/>
<text x="307.7" y="296.7" font-size="10.6" text-anchor="end" textLength="14.8" lengthAdjust="spacingAndGlyphs" fill="#1a1a1a">0.0</text>
<line x1="312.0" y1="269.76" x2="309.8" y2="269.76" stroke="#1e1e1e" stroke-width="1"/>
<line x1="312.0" y1="258.14" x2="313.6" y2="258.14" stroke="#1e1e1e" stroke-width="0.9"/>
<text x="307.7" y="273.46" font-size="10.6" text-anchor="end" textLength="14.8" lengthAdjust="spacingAndGlyphs" fill="#1a1a1a">0.2</text>
<line x1="312.0" y1="246.51999999999998" x2="309.8" y2="246.51999999999998" stroke="#1e1e1e" stroke-width="1"/>
<line x1="312.0" y1="234.9" x2="313.6" y2="234.9" stroke="#1e1e1e" stroke-width="0.9"/>
<text x="307.7" y="250.21999999999997" font-size="10.6" text-anchor="end" textLength="14.8" lengthAdjust="spacingAndGlyphs" fill="#1a1a1a">0.4</text>
<line x1="312.0" y1="223.27999999999997" x2="309.8" y2="223.27999999999997" stroke="#1e1e1e" stroke-width="1"/>
<line x1="312.0" y1="211.66" x2="313.6" y2="211.66" stroke="#1e1e1e" stroke-width="0.9"/>
<text x="307.7" y="226.97999999999996" font-size="10.6" text-anchor="end" textLength="14.8" lengthAdjust="spacingAndGlyphs" fill="#1a1a1a">0.6</text>
<line x1="312.0" y1="200.04" x2="309.8" y2="200.04" stroke="#1e1e1e" stroke-width="1"/>
<line x1="312.0" y1="188.42000000000002" x2="313.6" y2="188.42000000000002" stroke="#1e1e1e" stroke-width="0.9"/>
<text x="307.7" y="203.73999999999998" font-size="10.6" text-anchor="end" textLength="14.8" lengthAdjust="spacingAndGlyphs" fill="#1a1a1a">0.8</text>
<line x1="312.0" y1="176.8" x2="309.8" y2="176.8" stroke="#1e1e1e" stroke-width="1"/>
<line x1="312.0" y1="165.18" x2="313.6" y2="165.18" stroke="#1e1e1e" stroke-width="0.9"/>
<text x="307.7" y="180.5" font-size="10.6" text-anchor="end" textLength="14.8" lengthAdjust="spacingAndGlyphs" fill="#1a1a1a">1.0</text>
<text x="425.1" y="318.6" font-size="12.4" text-anchor="middle" textLength="44.2" lengthAdjust="spacingAndGlyphs" fill="#1a1a1a" style="stroke-width:0.12px">Time (h)</text>
<text font-size="11.2" fill="#1a1a1a" transform="translate(288.6,225) rotate(-90)" text-anchor="middle" textLength="99.6" lengthAdjust="spacingAndGlyphs" style="stroke-width:0.12px">Normalized PCE</text>
<text x="283.1" y="166.6" font-size="17.4" fill="#1a1a1a" style="stroke-width:0">(e)</text>
<circle cx="452.5" cy="174.0" r="2.4" fill="url(#rg)"/>
<circle cx="452.5" cy="187.5" r="2.4" fill="url(#ro)"/>
<text x="468.2" y="177.8" font-size="10.8" textLength="35.1" lengthAdjust="spacingAndGlyphs" fill="#1a1a1a">Control</text>
<text x="468.2" y="191.4" font-size="10.8" textLength="62.7" lengthAdjust="spacingAndGlyphs" fill="#1a1a1a">MHyI-treated</text>
<text x="324.6" y="283.4" font-size="8.7" textLength="199.2" lengthAdjust="spacingAndGlyphs" fill="#1a1a1a" style="stroke-width:0.1px">MPP tracking&#160; (1 sun in ambient air, encapsulated)</text>
</svg>
</body></html>
